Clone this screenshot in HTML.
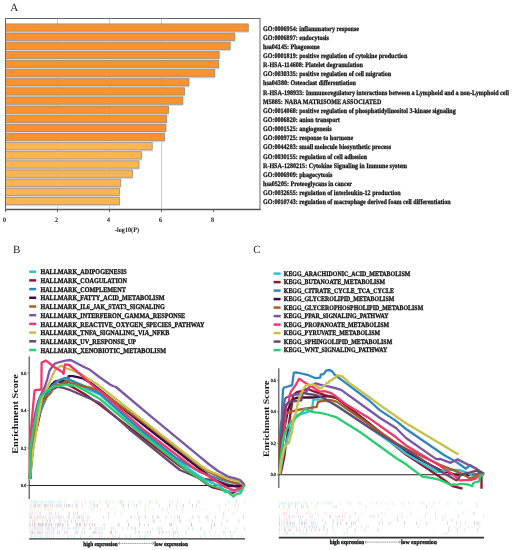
<!DOCTYPE html>
<html><head><meta charset="utf-8"><style>html,body{margin:0;padding:0;background:#fff;}svg{display:block;text-rendering:geometricPrecision;filter:blur(0.35px);}</style></head>
<body><svg width="512" height="550" viewBox="0 0 512 550"><text x="10.3" y="10.8" font-size="11" font-family="'Liberation Serif', serif" fill="#222">A</text>
<line x1="57.5" y1="18.5" x2="57.5" y2="209.5" stroke="#c4c4c4" stroke-width="0.9"/>
<line x1="109.5" y1="18.5" x2="109.5" y2="209.5" stroke="#c4c4c4" stroke-width="0.9"/>
<line x1="161.5" y1="18.5" x2="161.5" y2="209.5" stroke="#c4c4c4" stroke-width="0.9"/>
<rect x="5.5" y="31.50" width="243.40" height="1.3" fill="#d4dbe6"/>
<rect x="5.5" y="23.90" width="242.80" height="7.3" fill="#fa922f" stroke="#8c8580" stroke-width="0.7"/>
<text transform="translate(263,30.70) scale(0.867,1)" font-size="7" font-weight="bold" font-family="'Liberation Serif', serif" fill="#111" stroke="#111" stroke-width="0.26">GO:0006954: inflammatory response</text>
<rect x="5.5" y="40.63" width="230.00" height="1.3" fill="#d4dbe6"/>
<rect x="5.5" y="33.03" width="229.40" height="7.3" fill="#fa922f" stroke="#8c8580" stroke-width="0.7"/>
<text transform="translate(263,39.83) scale(0.867,1)" font-size="7" font-weight="bold" font-family="'Liberation Serif', serif" fill="#111" stroke="#111" stroke-width="0.26">GO:0006897: endocytosis</text>
<rect x="5.5" y="49.76" width="225.30" height="1.3" fill="#d4dbe6"/>
<rect x="5.5" y="42.16" width="224.70" height="7.3" fill="#fa922f" stroke="#8c8580" stroke-width="0.7"/>
<text transform="translate(263,48.96) scale(0.867,1)" font-size="7" font-weight="bold" font-family="'Liberation Serif', serif" fill="#111" stroke="#111" stroke-width="0.26">hsa04145: Phagosome</text>
<rect x="5.5" y="58.89" width="214.30" height="1.3" fill="#d4dbe6"/>
<rect x="5.5" y="51.29" width="213.70" height="7.3" fill="#fa922f" stroke="#8c8580" stroke-width="0.7"/>
<text transform="translate(263,58.09) scale(0.867,1)" font-size="7" font-weight="bold" font-family="'Liberation Serif', serif" fill="#111" stroke="#111" stroke-width="0.26">GO:0001819: positive regulation of cytokine production</text>
<rect x="5.5" y="68.02" width="213.80" height="1.3" fill="#d4dbe6"/>
<rect x="5.5" y="60.42" width="213.20" height="7.3" fill="#fa922f" stroke="#8c8580" stroke-width="0.7"/>
<text transform="translate(263,67.22) scale(0.867,1)" font-size="7" font-weight="bold" font-family="'Liberation Serif', serif" fill="#111" stroke="#111" stroke-width="0.26">R-HSA-114608: Platelet degranulation</text>
<rect x="5.5" y="77.15" width="209.90" height="1.3" fill="#d4dbe6"/>
<rect x="5.5" y="69.55" width="209.30" height="7.3" fill="#fa922f" stroke="#8c8580" stroke-width="0.7"/>
<text transform="translate(263,76.35) scale(0.867,1)" font-size="7" font-weight="bold" font-family="'Liberation Serif', serif" fill="#111" stroke="#111" stroke-width="0.26">GO:0030335: positive regulation of cell migration</text>
<rect x="5.5" y="86.28" width="184.10" height="1.3" fill="#d4dbe6"/>
<rect x="5.5" y="78.68" width="183.50" height="7.3" fill="#fa922f" stroke="#8c8580" stroke-width="0.7"/>
<text transform="translate(263,85.48) scale(0.867,1)" font-size="7" font-weight="bold" font-family="'Liberation Serif', serif" fill="#111" stroke="#111" stroke-width="0.26">hsa04380: Osteoclast differentiation</text>
<rect x="5.5" y="95.41" width="179.60" height="1.3" fill="#d4dbe6"/>
<rect x="5.5" y="87.81" width="179.00" height="7.3" fill="#fa922f" stroke="#8c8580" stroke-width="0.7"/>
<text transform="translate(263,94.61) scale(0.867,1)" font-size="7" font-weight="bold" font-family="'Liberation Serif', serif" fill="#111" stroke="#111" stroke-width="0.26">R-HSA-198933: Immunoregulatory interactions between a Lymphoid and a non-Lymphoid cell</text>
<rect x="5.5" y="104.54" width="178.00" height="1.3" fill="#d4dbe6"/>
<rect x="5.5" y="96.94" width="177.40" height="7.3" fill="#fa922f" stroke="#8c8580" stroke-width="0.7"/>
<text transform="translate(263,103.74) scale(0.867,1)" font-size="7" font-weight="bold" font-family="'Liberation Serif', serif" fill="#111" stroke="#111" stroke-width="0.26">M5885: NABA MATRISOME ASSOCIATED</text>
<rect x="5.5" y="113.67" width="163.70" height="1.3" fill="#d4dbe6"/>
<rect x="5.5" y="106.07" width="163.10" height="7.3" fill="#fa922f" stroke="#8c8580" stroke-width="0.7"/>
<text transform="translate(263,112.87) scale(0.867,1)" font-size="7" font-weight="bold" font-family="'Liberation Serif', serif" fill="#111" stroke="#111" stroke-width="0.26">GO:0014068: positive regulation of phosphatidylinositol 3-kinase signaling</text>
<rect x="5.5" y="122.80" width="161.80" height="1.3" fill="#d4dbe6"/>
<rect x="5.5" y="115.20" width="161.20" height="7.3" fill="#fa922f" stroke="#8c8580" stroke-width="0.7"/>
<text transform="translate(263,122.00) scale(0.867,1)" font-size="7" font-weight="bold" font-family="'Liberation Serif', serif" fill="#111" stroke="#111" stroke-width="0.26">GO:0006820: anion transport</text>
<rect x="5.5" y="131.93" width="161.10" height="1.3" fill="#d4dbe6"/>
<rect x="5.5" y="124.33" width="160.50" height="7.3" fill="#fa922f" stroke="#8c8580" stroke-width="0.7"/>
<text transform="translate(263,131.13) scale(0.867,1)" font-size="7" font-weight="bold" font-family="'Liberation Serif', serif" fill="#111" stroke="#111" stroke-width="0.26">GO:0001525: angiogenesis</text>
<rect x="5.5" y="141.06" width="159.70" height="1.3" fill="#d4dbe6"/>
<rect x="5.5" y="133.46" width="159.10" height="7.3" fill="#fa922f" stroke="#8c8580" stroke-width="0.7"/>
<text transform="translate(263,140.26) scale(0.867,1)" font-size="7" font-weight="bold" font-family="'Liberation Serif', serif" fill="#111" stroke="#111" stroke-width="0.26">GO:0009725: response to hormone</text>
<rect x="5.5" y="150.19" width="147.30" height="1.3" fill="#d4dbe6"/>
<rect x="5.5" y="142.59" width="146.70" height="7.3" fill="#fdb552" stroke="#8c8580" stroke-width="0.7"/>
<text transform="translate(263,149.39) scale(0.867,1)" font-size="7" font-weight="bold" font-family="'Liberation Serif', serif" fill="#111" stroke="#111" stroke-width="0.26">GO:0044283: small molecule biosynthetic process</text>
<rect x="5.5" y="159.32" width="136.70" height="1.3" fill="#d4dbe6"/>
<rect x="5.5" y="151.72" width="136.10" height="7.3" fill="#fdb552" stroke="#8c8580" stroke-width="0.7"/>
<text transform="translate(263,158.52) scale(0.867,1)" font-size="7" font-weight="bold" font-family="'Liberation Serif', serif" fill="#111" stroke="#111" stroke-width="0.26">GO:0030155: regulation of cell adhesion</text>
<rect x="5.5" y="168.45" width="134.10" height="1.3" fill="#d4dbe6"/>
<rect x="5.5" y="160.85" width="133.50" height="7.3" fill="#fdb552" stroke="#8c8580" stroke-width="0.7"/>
<text transform="translate(263,167.65) scale(0.867,1)" font-size="7" font-weight="bold" font-family="'Liberation Serif', serif" fill="#111" stroke="#111" stroke-width="0.26">R-HSA-1280215: Cytokine Signaling in Immune system</text>
<rect x="5.5" y="177.58" width="127.60" height="1.3" fill="#d4dbe6"/>
<rect x="5.5" y="169.98" width="127.00" height="7.3" fill="#fdb552" stroke="#8c8580" stroke-width="0.7"/>
<text transform="translate(263,176.78) scale(0.867,1)" font-size="7" font-weight="bold" font-family="'Liberation Serif', serif" fill="#111" stroke="#111" stroke-width="0.26">GO:0006909: phagocytosis</text>
<rect x="5.5" y="186.71" width="115.90" height="1.3" fill="#d4dbe6"/>
<rect x="5.5" y="179.11" width="115.30" height="7.3" fill="#fdb552" stroke="#8c8580" stroke-width="0.7"/>
<text transform="translate(263,185.91) scale(0.867,1)" font-size="7" font-weight="bold" font-family="'Liberation Serif', serif" fill="#111" stroke="#111" stroke-width="0.26">hsa05205: Proteoglycans in cancer</text>
<rect x="5.5" y="195.84" width="114.70" height="1.3" fill="#d4dbe6"/>
<rect x="5.5" y="188.24" width="114.10" height="7.3" fill="#fdb552" stroke="#8c8580" stroke-width="0.7"/>
<text transform="translate(263,195.04) scale(0.867,1)" font-size="7" font-weight="bold" font-family="'Liberation Serif', serif" fill="#111" stroke="#111" stroke-width="0.26">GO:0032655: regulation of interleukin-12 production</text>
<rect x="5.5" y="204.97" width="114.70" height="1.3" fill="#d4dbe6"/>
<rect x="5.5" y="197.37" width="114.10" height="7.3" fill="#fdb552" stroke="#8c8580" stroke-width="0.7"/>
<text transform="translate(263,204.17) scale(0.867,1)" font-size="7" font-weight="bold" font-family="'Liberation Serif', serif" fill="#111" stroke="#111" stroke-width="0.26">GO:0010743: regulation of macrophage derived foam cell differentiation</text>
<rect x="5.5" y="18.5" width="254.5" height="191.0" fill="none" stroke="#666" stroke-width="1"/>
<line x1="5.0" y1="209.5" x2="260.5" y2="209.5" stroke="#555" stroke-width="1.4"/>
<line x1="5.5" y1="209.5" x2="5.5" y2="212.0" stroke="#555" stroke-width="0.9"/>
<text transform="translate(4.5,221.6) scale(0.87,1)" font-size="6.9" font-weight="bold" text-anchor="middle" font-family="'Liberation Serif', serif" fill="#111">0</text>
<line x1="57.5" y1="209.5" x2="57.5" y2="212.0" stroke="#555" stroke-width="0.9"/>
<text transform="translate(56.5,221.6) scale(0.87,1)" font-size="6.9" font-weight="bold" text-anchor="middle" font-family="'Liberation Serif', serif" fill="#111">2</text>
<line x1="109.5" y1="209.5" x2="109.5" y2="212.0" stroke="#555" stroke-width="0.9"/>
<text transform="translate(108.5,221.6) scale(0.87,1)" font-size="6.9" font-weight="bold" text-anchor="middle" font-family="'Liberation Serif', serif" fill="#111">4</text>
<line x1="161.5" y1="209.5" x2="161.5" y2="212.0" stroke="#555" stroke-width="0.9"/>
<text transform="translate(160.5,221.6) scale(0.87,1)" font-size="6.9" font-weight="bold" text-anchor="middle" font-family="'Liberation Serif', serif" fill="#111">6</text>
<line x1="213.5" y1="209.5" x2="213.5" y2="212.0" stroke="#555" stroke-width="0.9"/>
<text transform="translate(212.5,221.6) scale(0.87,1)" font-size="6.9" font-weight="bold" text-anchor="middle" font-family="'Liberation Serif', serif" fill="#111">8</text>
<text transform="translate(127,231.6) scale(0.88,1)" font-size="7" font-weight="bold" text-anchor="middle" font-family="'Liberation Serif', serif" fill="#111">-log10(P)</text>
<text x="13" y="253" font-size="11" font-family="'Liberation Serif', serif" fill="#222">B</text>
<text x="253.3" y="253" font-size="11" font-family="'Liberation Serif', serif" fill="#222">C</text>
<rect x="29.2" y="270.45" width="7" height="2.5" fill="#2ec4d6"/>
<text transform="translate(40.4,274.30) scale(0.855,1)" font-size="7.2" font-weight="bold" text-anchor="start" font-family="'Liberation Serif', serif" fill="#111" stroke="#111" stroke-width="0.3">HALLMARK_ADIPOGENESIS</text>
<rect x="29.2" y="279.15" width="7" height="2.5" fill="#8b1a2e"/>
<text transform="translate(40.4,283.00) scale(0.855,1)" font-size="7.2" font-weight="bold" text-anchor="start" font-family="'Liberation Serif', serif" fill="#111" stroke="#111" stroke-width="0.3">HALLMARK_COAGULATION</text>
<rect x="29.2" y="287.85" width="7" height="2.5" fill="#2e86c1"/>
<text transform="translate(40.4,291.70) scale(0.855,1)" font-size="7.2" font-weight="bold" text-anchor="start" font-family="'Liberation Serif', serif" fill="#111" stroke="#111" stroke-width="0.3">HALLMARK_COMPLEMENT</text>
<rect x="29.2" y="296.55" width="7" height="2.5" fill="#3d0a3d"/>
<text transform="translate(40.4,300.40) scale(0.855,1)" font-size="7.2" font-weight="bold" text-anchor="start" font-family="'Liberation Serif', serif" fill="#111" stroke="#111" stroke-width="0.3">HALLMARK_FATTY_ACID_METABOLISM</text>
<rect x="29.2" y="305.25" width="7" height="2.5" fill="#a5602a"/>
<text transform="translate(40.4,309.10) scale(0.855,1)" font-size="7.2" font-weight="bold" text-anchor="start" font-family="'Liberation Serif', serif" fill="#111" stroke="#111" stroke-width="0.3">HALLMARK_IL6_JAK_STAT3_SIGNALING</text>
<rect x="29.2" y="313.95" width="7" height="2.5" fill="#7858a6"/>
<text transform="translate(40.4,317.80) scale(0.855,1)" font-size="7.2" font-weight="bold" text-anchor="start" font-family="'Liberation Serif', serif" fill="#111" stroke="#111" stroke-width="0.3">HALLMARK_INTERFERON_GAMMA_RESPONSE</text>
<rect x="29.2" y="322.65" width="7" height="2.5" fill="#f0386b"/>
<text transform="translate(40.4,326.50) scale(0.855,1)" font-size="7.2" font-weight="bold" text-anchor="start" font-family="'Liberation Serif', serif" fill="#111" stroke="#111" stroke-width="0.3">HALLMARK_REACTIVE_OXYGEN_SPECIES_PATHWAY</text>
<rect x="29.2" y="331.35" width="7" height="2.5" fill="#c8c04a"/>
<text transform="translate(40.4,335.20) scale(0.855,1)" font-size="7.2" font-weight="bold" text-anchor="start" font-family="'Liberation Serif', serif" fill="#111" stroke="#111" stroke-width="0.3">HALLMARK_TNFA_SIGNALING_VIA_NFKB</text>
<rect x="29.2" y="340.05" width="7" height="2.5" fill="#6b4a6b"/>
<text transform="translate(40.4,343.90) scale(0.855,1)" font-size="7.2" font-weight="bold" text-anchor="start" font-family="'Liberation Serif', serif" fill="#111" stroke="#111" stroke-width="0.3">HALLMARK_UV_RESPONSE_UP</text>
<rect x="29.2" y="348.75" width="7" height="2.5" fill="#2ecc71"/>
<text transform="translate(40.4,352.60) scale(0.855,1)" font-size="7.2" font-weight="bold" text-anchor="start" font-family="'Liberation Serif', serif" fill="#111" stroke="#111" stroke-width="0.3">HALLMARK_XENOBIOTIC_METABOLISM</text>
<rect x="273.6" y="272.35" width="7" height="2.5" fill="#2ec4d6"/>
<text transform="translate(283.8,275.50) scale(0.859,1)" font-size="6.9" font-weight="bold" text-anchor="start" font-family="'Liberation Serif', serif" fill="#111" stroke="#111" stroke-width="0.3">KEGG_ARACHIDONIC_ACID_METABOLISM</text>
<rect x="273.6" y="280.85" width="7" height="2.5" fill="#8b1a2e"/>
<text transform="translate(283.8,284.00) scale(0.859,1)" font-size="6.9" font-weight="bold" text-anchor="start" font-family="'Liberation Serif', serif" fill="#111" stroke="#111" stroke-width="0.3">KEGG_BUTANOATE_METABOLISM</text>
<rect x="273.6" y="289.35" width="7" height="2.5" fill="#2e86c1"/>
<text transform="translate(283.8,292.50) scale(0.859,1)" font-size="6.9" font-weight="bold" text-anchor="start" font-family="'Liberation Serif', serif" fill="#111" stroke="#111" stroke-width="0.3">KEGG_CITRATE_CYCLE_TCA_CYCLE</text>
<rect x="273.6" y="297.85" width="7" height="2.5" fill="#3d0a3d"/>
<text transform="translate(283.8,301.00) scale(0.859,1)" font-size="6.9" font-weight="bold" text-anchor="start" font-family="'Liberation Serif', serif" fill="#111" stroke="#111" stroke-width="0.3">KEGG_GLYCEROLIPID_METABOLISM</text>
<rect x="273.6" y="306.35" width="7" height="2.5" fill="#a5602a"/>
<text transform="translate(283.8,309.50) scale(0.859,1)" font-size="6.9" font-weight="bold" text-anchor="start" font-family="'Liberation Serif', serif" fill="#111" stroke="#111" stroke-width="0.3">KEGG_GLYCEROPHOSPHOLIPID_METABOLISM</text>
<rect x="273.6" y="314.85" width="7" height="2.5" fill="#7858a6"/>
<text transform="translate(283.8,318.00) scale(0.859,1)" font-size="6.9" font-weight="bold" text-anchor="start" font-family="'Liberation Serif', serif" fill="#111" stroke="#111" stroke-width="0.3">KEGG_PPAR_SIGNALING_PATHWAY</text>
<rect x="273.6" y="323.35" width="7" height="2.5" fill="#f0386b"/>
<text transform="translate(283.8,326.50) scale(0.859,1)" font-size="6.9" font-weight="bold" text-anchor="start" font-family="'Liberation Serif', serif" fill="#111" stroke="#111" stroke-width="0.3">KEGG_PROPANOATE_METABOLISM</text>
<rect x="273.6" y="331.85" width="7" height="2.5" fill="#c8c04a"/>
<text transform="translate(283.8,335.00) scale(0.859,1)" font-size="6.9" font-weight="bold" text-anchor="start" font-family="'Liberation Serif', serif" fill="#111" stroke="#111" stroke-width="0.3">KEGG_PYRUVATE_METABOLISM</text>
<rect x="273.6" y="340.35" width="7" height="2.5" fill="#6b4a6b"/>
<text transform="translate(283.8,343.50) scale(0.859,1)" font-size="6.9" font-weight="bold" text-anchor="start" font-family="'Liberation Serif', serif" fill="#111" stroke="#111" stroke-width="0.3">KEGG_SPHINGOLIPID_METABOLISM</text>
<rect x="273.6" y="348.85" width="7" height="2.5" fill="#2ecc71"/>
<text transform="translate(283.8,352.00) scale(0.859,1)" font-size="6.9" font-weight="bold" text-anchor="start" font-family="'Liberation Serif', serif" fill="#111" stroke="#111" stroke-width="0.3">KEGG_WNT_SIGNALING_PATHWAY</text>
<line x1="29.2" y1="356.6" x2="29.2" y2="499" stroke="#444" stroke-width="1.1"/>
<line x1="27.4" y1="485.50" x2="29.2" y2="485.50" stroke="#444" stroke-width="0.6"/>
<text transform="translate(26.2,487.10) scale(0.855,1)" font-size="4.8" font-weight="normal" text-anchor="end" font-family="'Liberation Serif', serif" fill="#222" stroke="#222" stroke-width="0.3">0.0</text>
<line x1="27.4" y1="448.00" x2="29.2" y2="448.00" stroke="#444" stroke-width="0.6"/>
<text transform="translate(26.2,449.60) scale(0.855,1)" font-size="4.8" font-weight="normal" text-anchor="end" font-family="'Liberation Serif', serif" fill="#222" stroke="#222" stroke-width="0.3">0.2</text>
<line x1="27.4" y1="410.50" x2="29.2" y2="410.50" stroke="#444" stroke-width="0.6"/>
<text transform="translate(26.2,412.10) scale(0.855,1)" font-size="4.8" font-weight="normal" text-anchor="end" font-family="'Liberation Serif', serif" fill="#222" stroke="#222" stroke-width="0.3">0.4</text>
<line x1="27.4" y1="373.00" x2="29.2" y2="373.00" stroke="#444" stroke-width="0.6"/>
<text transform="translate(26.2,374.60) scale(0.855,1)" font-size="4.8" font-weight="normal" text-anchor="end" font-family="'Liberation Serif', serif" fill="#222" stroke="#222" stroke-width="0.3">0.6</text>
<line x1="29.2" y1="485.5" x2="245" y2="485.5" stroke="#222" stroke-width="1.1"/>
<rect x="29.7" y="500.2" width="0.65" height="3.4" fill="#2ecc71" opacity="0.21"/>
<rect x="31.6" y="500.2" width="0.65" height="3.4" fill="#2ecc71" opacity="0.30"/>
<rect x="33.0" y="500.2" width="0.65" height="3.4" fill="#2ecc71" opacity="0.29"/>
<rect x="34.0" y="500.2" width="0.65" height="3.4" fill="#2ecc71" opacity="0.20"/>
<rect x="35.0" y="500.2" width="0.65" height="3.4" fill="#2ecc71" opacity="0.36"/>
<rect x="36.1" y="500.2" width="0.65" height="3.4" fill="#2ecc71" opacity="0.32"/>
<rect x="38.4" y="500.2" width="0.65" height="3.4" fill="#2ecc71" opacity="0.27"/>
<rect x="40.8" y="500.2" width="0.65" height="3.4" fill="#2ecc71" opacity="0.37"/>
<rect x="42.1" y="500.2" width="0.65" height="3.4" fill="#2ecc71" opacity="0.21"/>
<rect x="43.5" y="500.2" width="0.65" height="3.4" fill="#2ecc71" opacity="0.22"/>
<rect x="45.3" y="500.2" width="0.65" height="3.4" fill="#2ecc71" opacity="0.26"/>
<rect x="47.0" y="500.2" width="0.65" height="3.4" fill="#2ecc71" opacity="0.19"/>
<rect x="48.2" y="500.2" width="0.65" height="3.4" fill="#2ecc71" opacity="0.27"/>
<rect x="49.6" y="500.2" width="0.65" height="3.4" fill="#2ecc71" opacity="0.28"/>
<rect x="50.9" y="500.2" width="0.65" height="3.4" fill="#2ecc71" opacity="0.33"/>
<rect x="52.2" y="500.2" width="0.65" height="3.4" fill="#2ecc71" opacity="0.30"/>
<rect x="54.4" y="500.2" width="0.65" height="3.4" fill="#2ecc71" opacity="0.24"/>
<rect x="56.8" y="500.2" width="0.65" height="3.4" fill="#2ecc71" opacity="0.27"/>
<rect x="58.8" y="500.2" width="0.65" height="3.4" fill="#2ecc71" opacity="0.29"/>
<rect x="59.8" y="500.2" width="0.65" height="3.4" fill="#2ecc71" opacity="0.35"/>
<rect x="64.7" y="500.2" width="0.65" height="3.4" fill="#2ecc71" opacity="0.28"/>
<rect x="73.4" y="500.2" width="0.65" height="3.4" fill="#2ecc71" opacity="0.26"/>
<rect x="75.3" y="500.2" width="0.65" height="3.4" fill="#2ecc71" opacity="0.28"/>
<rect x="76.5" y="500.2" width="0.65" height="3.4" fill="#2ecc71" opacity="0.19"/>
<rect x="78.5" y="500.2" width="0.65" height="3.4" fill="#2ecc71" opacity="0.23"/>
<rect x="81.1" y="500.2" width="0.65" height="3.4" fill="#2ecc71" opacity="0.30"/>
<rect x="85.5" y="500.2" width="0.65" height="3.4" fill="#2ecc71" opacity="0.27"/>
<rect x="89.3" y="500.2" width="0.65" height="3.4" fill="#2ecc71" opacity="0.22"/>
<rect x="90.5" y="500.2" width="0.65" height="3.4" fill="#2ecc71" opacity="0.29"/>
<rect x="92.3" y="500.2" width="0.65" height="3.4" fill="#2ecc71" opacity="0.18"/>
<rect x="93.8" y="500.2" width="0.65" height="3.4" fill="#2ecc71" opacity="0.30"/>
<rect x="99.7" y="500.2" width="0.65" height="3.4" fill="#2ecc71" opacity="0.38"/>
<rect x="105.4" y="500.2" width="0.65" height="3.4" fill="#2ecc71" opacity="0.32"/>
<rect x="106.4" y="500.2" width="0.65" height="3.4" fill="#2ecc71" opacity="0.23"/>
<rect x="108.5" y="500.2" width="0.65" height="3.4" fill="#2ecc71" opacity="0.21"/>
<rect x="112.3" y="500.2" width="0.65" height="3.4" fill="#2ecc71" opacity="0.24"/>
<rect x="118.8" y="500.2" width="0.65" height="3.4" fill="#2ecc71" opacity="0.20"/>
<rect x="120.3" y="500.2" width="0.65" height="3.4" fill="#2ecc71" opacity="0.36"/>
<rect x="121.4" y="500.2" width="0.65" height="3.4" fill="#2ecc71" opacity="0.39"/>
<rect x="123.1" y="500.2" width="0.65" height="3.4" fill="#2ecc71" opacity="0.30"/>
<rect x="128.3" y="500.2" width="0.65" height="3.4" fill="#2ecc71" opacity="0.26"/>
<rect x="132.6" y="500.2" width="0.65" height="3.4" fill="#2ecc71" opacity="0.36"/>
<rect x="139.1" y="500.2" width="0.65" height="3.4" fill="#2ecc71" opacity="0.29"/>
<rect x="140.5" y="500.2" width="0.65" height="3.4" fill="#2ecc71" opacity="0.19"/>
<rect x="149.2" y="500.2" width="0.65" height="3.4" fill="#2ecc71" opacity="0.23"/>
<rect x="150.4" y="500.2" width="0.65" height="3.4" fill="#2ecc71" opacity="0.32"/>
<rect x="156.3" y="500.2" width="0.65" height="3.4" fill="#2ecc71" opacity="0.33"/>
<rect x="169.0" y="500.2" width="0.65" height="3.4" fill="#2ecc71" opacity="0.21"/>
<rect x="172.3" y="500.2" width="0.65" height="3.4" fill="#2ecc71" opacity="0.36"/>
<rect x="177.2" y="500.2" width="0.65" height="3.4" fill="#2ecc71" opacity="0.39"/>
<rect x="189.4" y="500.2" width="0.65" height="3.4" fill="#2ecc71" opacity="0.38"/>
<rect x="197.5" y="500.2" width="0.65" height="3.4" fill="#2ecc71" opacity="0.28"/>
<rect x="198.7" y="500.2" width="0.65" height="3.4" fill="#2ecc71" opacity="0.36"/>
<rect x="228.2" y="500.2" width="0.65" height="3.4" fill="#2ecc71" opacity="0.21"/>
<rect x="229.7" y="500.2" width="0.65" height="3.4" fill="#2ecc71" opacity="0.23"/>
<rect x="235.9" y="500.2" width="0.65" height="3.4" fill="#2ecc71" opacity="0.37"/>
<rect x="244.3" y="500.2" width="0.65" height="3.4" fill="#2ecc71" opacity="0.27"/>
<rect x="29.7" y="504.0" width="0.65" height="3.4" fill="#6b4a6b" opacity="0.22"/>
<rect x="31.1" y="504.0" width="0.65" height="3.4" fill="#6b4a6b" opacity="0.18"/>
<rect x="32.8" y="504.0" width="0.65" height="3.4" fill="#6b4a6b" opacity="0.18"/>
<rect x="34.2" y="504.0" width="0.65" height="3.4" fill="#6b4a6b" opacity="0.29"/>
<rect x="35.2" y="504.0" width="0.65" height="3.4" fill="#6b4a6b" opacity="0.35"/>
<rect x="37.6" y="504.0" width="0.65" height="3.4" fill="#6b4a6b" opacity="0.24"/>
<rect x="38.5" y="504.0" width="0.65" height="3.4" fill="#6b4a6b" opacity="0.24"/>
<rect x="39.6" y="504.0" width="0.65" height="3.4" fill="#6b4a6b" opacity="0.38"/>
<rect x="41.7" y="504.0" width="0.65" height="3.4" fill="#6b4a6b" opacity="0.21"/>
<rect x="44.0" y="504.0" width="0.65" height="3.4" fill="#6b4a6b" opacity="0.33"/>
<rect x="45.1" y="504.0" width="0.65" height="3.4" fill="#6b4a6b" opacity="0.33"/>
<rect x="46.6" y="504.0" width="0.65" height="3.4" fill="#6b4a6b" opacity="0.39"/>
<rect x="48.4" y="504.0" width="0.65" height="3.4" fill="#6b4a6b" opacity="0.20"/>
<rect x="50.6" y="504.0" width="0.65" height="3.4" fill="#6b4a6b" opacity="0.37"/>
<rect x="52.2" y="504.0" width="0.65" height="3.4" fill="#6b4a6b" opacity="0.30"/>
<rect x="54.5" y="504.0" width="0.65" height="3.4" fill="#6b4a6b" opacity="0.21"/>
<rect x="56.2" y="504.0" width="0.65" height="3.4" fill="#6b4a6b" opacity="0.20"/>
<rect x="57.3" y="504.0" width="0.65" height="3.4" fill="#6b4a6b" opacity="0.22"/>
<rect x="58.7" y="504.0" width="0.65" height="3.4" fill="#6b4a6b" opacity="0.35"/>
<rect x="60.0" y="504.0" width="0.65" height="3.4" fill="#6b4a6b" opacity="0.22"/>
<rect x="61.5" y="504.0" width="0.65" height="3.4" fill="#6b4a6b" opacity="0.24"/>
<rect x="64.1" y="504.0" width="0.65" height="3.4" fill="#6b4a6b" opacity="0.28"/>
<rect x="66.4" y="504.0" width="0.65" height="3.4" fill="#6b4a6b" opacity="0.36"/>
<rect x="68.0" y="504.0" width="0.65" height="3.4" fill="#6b4a6b" opacity="0.36"/>
<rect x="69.4" y="504.0" width="0.65" height="3.4" fill="#6b4a6b" opacity="0.33"/>
<rect x="71.8" y="504.0" width="0.65" height="3.4" fill="#6b4a6b" opacity="0.36"/>
<rect x="75.3" y="504.0" width="0.65" height="3.4" fill="#6b4a6b" opacity="0.19"/>
<rect x="76.4" y="504.0" width="0.65" height="3.4" fill="#6b4a6b" opacity="0.34"/>
<rect x="77.7" y="504.0" width="0.65" height="3.4" fill="#6b4a6b" opacity="0.20"/>
<rect x="81.7" y="504.0" width="0.65" height="3.4" fill="#6b4a6b" opacity="0.23"/>
<rect x="90.5" y="504.0" width="0.65" height="3.4" fill="#6b4a6b" opacity="0.18"/>
<rect x="93.6" y="504.0" width="0.65" height="3.4" fill="#6b4a6b" opacity="0.29"/>
<rect x="94.5" y="504.0" width="0.65" height="3.4" fill="#6b4a6b" opacity="0.20"/>
<rect x="96.0" y="504.0" width="0.65" height="3.4" fill="#6b4a6b" opacity="0.18"/>
<rect x="97.4" y="504.0" width="0.65" height="3.4" fill="#6b4a6b" opacity="0.31"/>
<rect x="107.6" y="504.0" width="0.65" height="3.4" fill="#6b4a6b" opacity="0.36"/>
<rect x="121.6" y="504.0" width="0.65" height="3.4" fill="#6b4a6b" opacity="0.21"/>
<rect x="123.1" y="504.0" width="0.65" height="3.4" fill="#6b4a6b" opacity="0.36"/>
<rect x="128.3" y="504.0" width="0.65" height="3.4" fill="#6b4a6b" opacity="0.36"/>
<rect x="134.3" y="504.0" width="0.65" height="3.4" fill="#6b4a6b" opacity="0.24"/>
<rect x="136.3" y="504.0" width="0.65" height="3.4" fill="#6b4a6b" opacity="0.34"/>
<rect x="144.9" y="504.0" width="0.65" height="3.4" fill="#6b4a6b" opacity="0.24"/>
<rect x="148.6" y="504.0" width="0.65" height="3.4" fill="#6b4a6b" opacity="0.19"/>
<rect x="159.4" y="504.0" width="0.65" height="3.4" fill="#6b4a6b" opacity="0.28"/>
<rect x="169.0" y="504.0" width="0.65" height="3.4" fill="#6b4a6b" opacity="0.36"/>
<rect x="175.8" y="504.0" width="0.65" height="3.4" fill="#6b4a6b" opacity="0.29"/>
<rect x="182.9" y="504.0" width="0.65" height="3.4" fill="#6b4a6b" opacity="0.38"/>
<rect x="192.0" y="504.0" width="0.65" height="3.4" fill="#6b4a6b" opacity="0.36"/>
<rect x="196.3" y="504.0" width="0.65" height="3.4" fill="#6b4a6b" opacity="0.26"/>
<rect x="218.7" y="504.0" width="0.65" height="3.4" fill="#6b4a6b" opacity="0.22"/>
<rect x="225.4" y="504.0" width="0.65" height="3.4" fill="#6b4a6b" opacity="0.22"/>
<rect x="235.6" y="504.0" width="0.65" height="3.4" fill="#6b4a6b" opacity="0.24"/>
<rect x="238.0" y="504.0" width="0.65" height="3.4" fill="#6b4a6b" opacity="0.29"/>
<rect x="29.7" y="507.8" width="0.65" height="3.4" fill="#c8c04a" opacity="0.18"/>
<rect x="30.6" y="507.8" width="0.65" height="3.4" fill="#c8c04a" opacity="0.38"/>
<rect x="32.3" y="507.8" width="0.65" height="3.4" fill="#c8c04a" opacity="0.18"/>
<rect x="33.7" y="507.8" width="0.65" height="3.4" fill="#c8c04a" opacity="0.36"/>
<rect x="35.9" y="507.8" width="0.65" height="3.4" fill="#c8c04a" opacity="0.23"/>
<rect x="37.0" y="507.8" width="0.65" height="3.4" fill="#c8c04a" opacity="0.29"/>
<rect x="40.9" y="507.8" width="0.65" height="3.4" fill="#c8c04a" opacity="0.35"/>
<rect x="42.5" y="507.8" width="0.65" height="3.4" fill="#c8c04a" opacity="0.19"/>
<rect x="44.6" y="507.8" width="0.65" height="3.4" fill="#c8c04a" opacity="0.38"/>
<rect x="46.4" y="507.8" width="0.65" height="3.4" fill="#c8c04a" opacity="0.21"/>
<rect x="47.7" y="507.8" width="0.65" height="3.4" fill="#c8c04a" opacity="0.33"/>
<rect x="48.8" y="507.8" width="0.65" height="3.4" fill="#c8c04a" opacity="0.30"/>
<rect x="50.5" y="507.8" width="0.65" height="3.4" fill="#c8c04a" opacity="0.23"/>
<rect x="52.3" y="507.8" width="0.65" height="3.4" fill="#c8c04a" opacity="0.25"/>
<rect x="57.4" y="507.8" width="0.65" height="3.4" fill="#c8c04a" opacity="0.23"/>
<rect x="61.1" y="507.8" width="0.65" height="3.4" fill="#c8c04a" opacity="0.29"/>
<rect x="63.0" y="507.8" width="0.65" height="3.4" fill="#c8c04a" opacity="0.24"/>
<rect x="66.2" y="507.8" width="0.65" height="3.4" fill="#c8c04a" opacity="0.25"/>
<rect x="74.7" y="507.8" width="0.65" height="3.4" fill="#c8c04a" opacity="0.35"/>
<rect x="77.7" y="507.8" width="0.65" height="3.4" fill="#c8c04a" opacity="0.23"/>
<rect x="81.6" y="507.8" width="0.65" height="3.4" fill="#c8c04a" opacity="0.27"/>
<rect x="83.9" y="507.8" width="0.65" height="3.4" fill="#c8c04a" opacity="0.19"/>
<rect x="91.4" y="507.8" width="0.65" height="3.4" fill="#c8c04a" opacity="0.39"/>
<rect x="93.4" y="507.8" width="0.65" height="3.4" fill="#c8c04a" opacity="0.33"/>
<rect x="96.3" y="507.8" width="0.65" height="3.4" fill="#c8c04a" opacity="0.18"/>
<rect x="99.9" y="507.8" width="0.65" height="3.4" fill="#c8c04a" opacity="0.39"/>
<rect x="104.8" y="507.8" width="0.65" height="3.4" fill="#c8c04a" opacity="0.28"/>
<rect x="109.7" y="507.8" width="0.65" height="3.4" fill="#c8c04a" opacity="0.27"/>
<rect x="112.8" y="507.8" width="0.65" height="3.4" fill="#c8c04a" opacity="0.19"/>
<rect x="115.1" y="507.8" width="0.65" height="3.4" fill="#c8c04a" opacity="0.34"/>
<rect x="123.8" y="507.8" width="0.65" height="3.4" fill="#c8c04a" opacity="0.35"/>
<rect x="128.3" y="507.8" width="0.65" height="3.4" fill="#c8c04a" opacity="0.23"/>
<rect x="144.3" y="507.8" width="0.65" height="3.4" fill="#c8c04a" opacity="0.35"/>
<rect x="145.6" y="507.8" width="0.65" height="3.4" fill="#c8c04a" opacity="0.19"/>
<rect x="153.1" y="507.8" width="0.65" height="3.4" fill="#c8c04a" opacity="0.29"/>
<rect x="162.0" y="507.8" width="0.65" height="3.4" fill="#c8c04a" opacity="0.36"/>
<rect x="167.3" y="507.8" width="0.65" height="3.4" fill="#c8c04a" opacity="0.37"/>
<rect x="176.7" y="507.8" width="0.65" height="3.4" fill="#c8c04a" opacity="0.28"/>
<rect x="181.1" y="507.8" width="0.65" height="3.4" fill="#c8c04a" opacity="0.24"/>
<rect x="182.2" y="507.8" width="0.65" height="3.4" fill="#c8c04a" opacity="0.39"/>
<rect x="193.4" y="507.8" width="0.65" height="3.4" fill="#c8c04a" opacity="0.22"/>
<rect x="199.4" y="507.8" width="0.65" height="3.4" fill="#c8c04a" opacity="0.25"/>
<rect x="202.3" y="507.8" width="0.65" height="3.4" fill="#c8c04a" opacity="0.20"/>
<rect x="205.7" y="507.8" width="0.65" height="3.4" fill="#c8c04a" opacity="0.22"/>
<rect x="219.4" y="507.8" width="0.65" height="3.4" fill="#c8c04a" opacity="0.38"/>
<rect x="224.0" y="507.8" width="0.65" height="3.4" fill="#c8c04a" opacity="0.18"/>
<rect x="228.0" y="507.8" width="0.65" height="3.4" fill="#c8c04a" opacity="0.32"/>
<rect x="236.6" y="507.8" width="0.65" height="3.4" fill="#c8c04a" opacity="0.39"/>
<rect x="29.7" y="511.7" width="0.65" height="3.4" fill="#f0386b" opacity="0.37"/>
<rect x="31.8" y="511.7" width="0.65" height="3.4" fill="#f0386b" opacity="0.23"/>
<rect x="34.8" y="511.7" width="0.65" height="3.4" fill="#f0386b" opacity="0.23"/>
<rect x="39.8" y="511.7" width="0.65" height="3.4" fill="#f0386b" opacity="0.36"/>
<rect x="49.2" y="511.7" width="0.65" height="3.4" fill="#f0386b" opacity="0.32"/>
<rect x="50.8" y="511.7" width="0.65" height="3.4" fill="#f0386b" opacity="0.35"/>
<rect x="55.1" y="511.7" width="0.65" height="3.4" fill="#f0386b" opacity="0.27"/>
<rect x="57.8" y="511.7" width="0.65" height="3.4" fill="#f0386b" opacity="0.32"/>
<rect x="69.0" y="511.7" width="0.65" height="3.4" fill="#f0386b" opacity="0.40"/>
<rect x="72.9" y="511.7" width="0.65" height="3.4" fill="#f0386b" opacity="0.35"/>
<rect x="75.2" y="511.7" width="0.65" height="3.4" fill="#f0386b" opacity="0.26"/>
<rect x="77.2" y="511.7" width="0.65" height="3.4" fill="#f0386b" opacity="0.38"/>
<rect x="84.6" y="511.7" width="0.65" height="3.4" fill="#f0386b" opacity="0.22"/>
<rect x="108.1" y="511.7" width="0.65" height="3.4" fill="#f0386b" opacity="0.36"/>
<rect x="114.6" y="511.7" width="0.65" height="3.4" fill="#f0386b" opacity="0.21"/>
<rect x="121.1" y="511.7" width="0.65" height="3.4" fill="#f0386b" opacity="0.18"/>
<rect x="137.2" y="511.7" width="0.65" height="3.4" fill="#f0386b" opacity="0.32"/>
<rect x="167.9" y="511.7" width="0.65" height="3.4" fill="#f0386b" opacity="0.25"/>
<rect x="209.7" y="511.7" width="0.65" height="3.4" fill="#f0386b" opacity="0.19"/>
<rect x="223.5" y="511.7" width="0.65" height="3.4" fill="#f0386b" opacity="0.37"/>
<rect x="232.9" y="511.7" width="0.65" height="3.4" fill="#f0386b" opacity="0.24"/>
<rect x="29.7" y="515.5" width="0.65" height="3.4" fill="#7858a6" opacity="0.37"/>
<rect x="30.7" y="515.5" width="0.65" height="3.4" fill="#7858a6" opacity="0.22"/>
<rect x="31.6" y="515.5" width="0.65" height="3.4" fill="#7858a6" opacity="0.35"/>
<rect x="34.0" y="515.5" width="0.65" height="3.4" fill="#7858a6" opacity="0.29"/>
<rect x="35.6" y="515.5" width="0.65" height="3.4" fill="#7858a6" opacity="0.22"/>
<rect x="37.3" y="515.5" width="0.65" height="3.4" fill="#7858a6" opacity="0.36"/>
<rect x="38.6" y="515.5" width="0.65" height="3.4" fill="#7858a6" opacity="0.24"/>
<rect x="39.8" y="515.5" width="0.65" height="3.4" fill="#7858a6" opacity="0.29"/>
<rect x="40.9" y="515.5" width="0.65" height="3.4" fill="#7858a6" opacity="0.20"/>
<rect x="42.9" y="515.5" width="0.65" height="3.4" fill="#7858a6" opacity="0.35"/>
<rect x="44.8" y="515.5" width="0.65" height="3.4" fill="#7858a6" opacity="0.27"/>
<rect x="46.3" y="515.5" width="0.65" height="3.4" fill="#7858a6" opacity="0.20"/>
<rect x="48.5" y="515.5" width="0.65" height="3.4" fill="#7858a6" opacity="0.23"/>
<rect x="49.8" y="515.5" width="0.65" height="3.4" fill="#7858a6" opacity="0.29"/>
<rect x="52.5" y="515.5" width="0.65" height="3.4" fill="#7858a6" opacity="0.30"/>
<rect x="54.6" y="515.5" width="0.65" height="3.4" fill="#7858a6" opacity="0.32"/>
<rect x="56.0" y="515.5" width="0.65" height="3.4" fill="#7858a6" opacity="0.21"/>
<rect x="58.1" y="515.5" width="0.65" height="3.4" fill="#7858a6" opacity="0.34"/>
<rect x="59.3" y="515.5" width="0.65" height="3.4" fill="#7858a6" opacity="0.35"/>
<rect x="61.1" y="515.5" width="0.65" height="3.4" fill="#7858a6" opacity="0.28"/>
<rect x="63.3" y="515.5" width="0.65" height="3.4" fill="#7858a6" opacity="0.22"/>
<rect x="66.8" y="515.5" width="0.65" height="3.4" fill="#7858a6" opacity="0.21"/>
<rect x="68.1" y="515.5" width="0.65" height="3.4" fill="#7858a6" opacity="0.29"/>
<rect x="69.2" y="515.5" width="0.65" height="3.4" fill="#7858a6" opacity="0.22"/>
<rect x="73.7" y="515.5" width="0.65" height="3.4" fill="#7858a6" opacity="0.40"/>
<rect x="77.3" y="515.5" width="0.65" height="3.4" fill="#7858a6" opacity="0.32"/>
<rect x="78.4" y="515.5" width="0.65" height="3.4" fill="#7858a6" opacity="0.27"/>
<rect x="79.3" y="515.5" width="0.65" height="3.4" fill="#7858a6" opacity="0.35"/>
<rect x="81.3" y="515.5" width="0.65" height="3.4" fill="#7858a6" opacity="0.32"/>
<rect x="82.9" y="515.5" width="0.65" height="3.4" fill="#7858a6" opacity="0.31"/>
<rect x="86.7" y="515.5" width="0.65" height="3.4" fill="#7858a6" opacity="0.31"/>
<rect x="88.7" y="515.5" width="0.65" height="3.4" fill="#7858a6" opacity="0.23"/>
<rect x="103.1" y="515.5" width="0.65" height="3.4" fill="#7858a6" opacity="0.27"/>
<rect x="108.5" y="515.5" width="0.65" height="3.4" fill="#7858a6" opacity="0.32"/>
<rect x="129.9" y="515.5" width="0.65" height="3.4" fill="#7858a6" opacity="0.24"/>
<rect x="131.4" y="515.5" width="0.65" height="3.4" fill="#7858a6" opacity="0.27"/>
<rect x="134.4" y="515.5" width="0.65" height="3.4" fill="#7858a6" opacity="0.23"/>
<rect x="138.1" y="515.5" width="0.65" height="3.4" fill="#7858a6" opacity="0.36"/>
<rect x="139.6" y="515.5" width="0.65" height="3.4" fill="#7858a6" opacity="0.21"/>
<rect x="145.2" y="515.5" width="0.65" height="3.4" fill="#7858a6" opacity="0.39"/>
<rect x="152.1" y="515.5" width="0.65" height="3.4" fill="#7858a6" opacity="0.36"/>
<rect x="157.3" y="515.5" width="0.65" height="3.4" fill="#7858a6" opacity="0.34"/>
<rect x="158.6" y="515.5" width="0.65" height="3.4" fill="#7858a6" opacity="0.25"/>
<rect x="165.7" y="515.5" width="0.65" height="3.4" fill="#7858a6" opacity="0.36"/>
<rect x="170.9" y="515.5" width="0.65" height="3.4" fill="#7858a6" opacity="0.18"/>
<rect x="174.5" y="515.5" width="0.65" height="3.4" fill="#7858a6" opacity="0.21"/>
<rect x="177.2" y="515.5" width="0.65" height="3.4" fill="#7858a6" opacity="0.38"/>
<rect x="179.3" y="515.5" width="0.65" height="3.4" fill="#7858a6" opacity="0.38"/>
<rect x="192.5" y="515.5" width="0.65" height="3.4" fill="#7858a6" opacity="0.29"/>
<rect x="198.5" y="515.5" width="0.65" height="3.4" fill="#7858a6" opacity="0.36"/>
<rect x="205.8" y="515.5" width="0.65" height="3.4" fill="#7858a6" opacity="0.32"/>
<rect x="207.6" y="515.5" width="0.65" height="3.4" fill="#7858a6" opacity="0.31"/>
<rect x="214.9" y="515.5" width="0.65" height="3.4" fill="#7858a6" opacity="0.34"/>
<rect x="222.6" y="515.5" width="0.65" height="3.4" fill="#7858a6" opacity="0.28"/>
<rect x="243.2" y="515.5" width="0.65" height="3.4" fill="#7858a6" opacity="0.38"/>
<rect x="29.7" y="519.3" width="0.65" height="3.4" fill="#a5602a" opacity="0.35"/>
<rect x="32.0" y="519.3" width="0.65" height="3.4" fill="#a5602a" opacity="0.32"/>
<rect x="33.8" y="519.3" width="0.65" height="3.4" fill="#a5602a" opacity="0.31"/>
<rect x="35.7" y="519.3" width="0.65" height="3.4" fill="#a5602a" opacity="0.33"/>
<rect x="38.4" y="519.3" width="0.65" height="3.4" fill="#a5602a" opacity="0.19"/>
<rect x="42.3" y="519.3" width="0.65" height="3.4" fill="#a5602a" opacity="0.36"/>
<rect x="45.7" y="519.3" width="0.65" height="3.4" fill="#a5602a" opacity="0.27"/>
<rect x="47.1" y="519.3" width="0.65" height="3.4" fill="#a5602a" opacity="0.32"/>
<rect x="49.4" y="519.3" width="0.65" height="3.4" fill="#a5602a" opacity="0.30"/>
<rect x="50.3" y="519.3" width="0.65" height="3.4" fill="#a5602a" opacity="0.36"/>
<rect x="53.6" y="519.3" width="0.65" height="3.4" fill="#a5602a" opacity="0.27"/>
<rect x="59.3" y="519.3" width="0.65" height="3.4" fill="#a5602a" opacity="0.32"/>
<rect x="60.5" y="519.3" width="0.65" height="3.4" fill="#a5602a" opacity="0.18"/>
<rect x="64.7" y="519.3" width="0.65" height="3.4" fill="#a5602a" opacity="0.34"/>
<rect x="67.1" y="519.3" width="0.65" height="3.4" fill="#a5602a" opacity="0.35"/>
<rect x="71.1" y="519.3" width="0.65" height="3.4" fill="#a5602a" opacity="0.32"/>
<rect x="75.3" y="519.3" width="0.65" height="3.4" fill="#a5602a" opacity="0.39"/>
<rect x="77.3" y="519.3" width="0.65" height="3.4" fill="#a5602a" opacity="0.18"/>
<rect x="82.2" y="519.3" width="0.65" height="3.4" fill="#a5602a" opacity="0.37"/>
<rect x="83.8" y="519.3" width="0.65" height="3.4" fill="#a5602a" opacity="0.26"/>
<rect x="87.5" y="519.3" width="0.65" height="3.4" fill="#a5602a" opacity="0.36"/>
<rect x="126.7" y="519.3" width="0.65" height="3.4" fill="#a5602a" opacity="0.30"/>
<rect x="138.8" y="519.3" width="0.65" height="3.4" fill="#a5602a" opacity="0.36"/>
<rect x="152.9" y="519.3" width="0.65" height="3.4" fill="#a5602a" opacity="0.40"/>
<rect x="154.4" y="519.3" width="0.65" height="3.4" fill="#a5602a" opacity="0.32"/>
<rect x="159.9" y="519.3" width="0.65" height="3.4" fill="#a5602a" opacity="0.19"/>
<rect x="173.3" y="519.3" width="0.65" height="3.4" fill="#a5602a" opacity="0.19"/>
<rect x="178.9" y="519.3" width="0.65" height="3.4" fill="#a5602a" opacity="0.31"/>
<rect x="180.4" y="519.3" width="0.65" height="3.4" fill="#a5602a" opacity="0.39"/>
<rect x="190.6" y="519.3" width="0.65" height="3.4" fill="#a5602a" opacity="0.24"/>
<rect x="199.6" y="519.3" width="0.65" height="3.4" fill="#a5602a" opacity="0.21"/>
<rect x="207.7" y="519.3" width="0.65" height="3.4" fill="#a5602a" opacity="0.29"/>
<rect x="212.0" y="519.3" width="0.65" height="3.4" fill="#a5602a" opacity="0.38"/>
<rect x="226.6" y="519.3" width="0.65" height="3.4" fill="#a5602a" opacity="0.34"/>
<rect x="238.6" y="519.3" width="0.65" height="3.4" fill="#a5602a" opacity="0.40"/>
<rect x="29.7" y="523.1" width="0.65" height="3.4" fill="#3d0a3d" opacity="0.40"/>
<rect x="32.0" y="523.1" width="0.65" height="3.4" fill="#3d0a3d" opacity="0.24"/>
<rect x="34.2" y="523.1" width="0.65" height="3.4" fill="#3d0a3d" opacity="0.34"/>
<rect x="35.6" y="523.1" width="0.65" height="3.4" fill="#3d0a3d" opacity="0.18"/>
<rect x="37.7" y="523.1" width="0.65" height="3.4" fill="#3d0a3d" opacity="0.21"/>
<rect x="38.6" y="523.1" width="0.65" height="3.4" fill="#3d0a3d" opacity="0.30"/>
<rect x="39.8" y="523.1" width="0.65" height="3.4" fill="#3d0a3d" opacity="0.38"/>
<rect x="41.0" y="523.1" width="0.65" height="3.4" fill="#3d0a3d" opacity="0.21"/>
<rect x="42.2" y="523.1" width="0.65" height="3.4" fill="#3d0a3d" opacity="0.34"/>
<rect x="43.4" y="523.1" width="0.65" height="3.4" fill="#3d0a3d" opacity="0.20"/>
<rect x="45.2" y="523.1" width="0.65" height="3.4" fill="#3d0a3d" opacity="0.24"/>
<rect x="46.4" y="523.1" width="0.65" height="3.4" fill="#3d0a3d" opacity="0.34"/>
<rect x="48.5" y="523.1" width="0.65" height="3.4" fill="#3d0a3d" opacity="0.22"/>
<rect x="49.5" y="523.1" width="0.65" height="3.4" fill="#3d0a3d" opacity="0.27"/>
<rect x="51.5" y="523.1" width="0.65" height="3.4" fill="#3d0a3d" opacity="0.36"/>
<rect x="55.1" y="523.1" width="0.65" height="3.4" fill="#3d0a3d" opacity="0.18"/>
<rect x="57.3" y="523.1" width="0.65" height="3.4" fill="#3d0a3d" opacity="0.37"/>
<rect x="58.6" y="523.1" width="0.65" height="3.4" fill="#3d0a3d" opacity="0.36"/>
<rect x="60.1" y="523.1" width="0.65" height="3.4" fill="#3d0a3d" opacity="0.26"/>
<rect x="61.9" y="523.1" width="0.65" height="3.4" fill="#3d0a3d" opacity="0.29"/>
<rect x="63.5" y="523.1" width="0.65" height="3.4" fill="#3d0a3d" opacity="0.21"/>
<rect x="67.6" y="523.1" width="0.65" height="3.4" fill="#3d0a3d" opacity="0.34"/>
<rect x="75.8" y="523.1" width="0.65" height="3.4" fill="#3d0a3d" opacity="0.39"/>
<rect x="77.0" y="523.1" width="0.65" height="3.4" fill="#3d0a3d" opacity="0.20"/>
<rect x="79.3" y="523.1" width="0.65" height="3.4" fill="#3d0a3d" opacity="0.33"/>
<rect x="80.4" y="523.1" width="0.65" height="3.4" fill="#3d0a3d" opacity="0.31"/>
<rect x="84.2" y="523.1" width="0.65" height="3.4" fill="#3d0a3d" opacity="0.37"/>
<rect x="86.1" y="523.1" width="0.65" height="3.4" fill="#3d0a3d" opacity="0.21"/>
<rect x="89.1" y="523.1" width="0.65" height="3.4" fill="#3d0a3d" opacity="0.27"/>
<rect x="92.4" y="523.1" width="0.65" height="3.4" fill="#3d0a3d" opacity="0.31"/>
<rect x="94.4" y="523.1" width="0.65" height="3.4" fill="#3d0a3d" opacity="0.36"/>
<rect x="103.7" y="523.1" width="0.65" height="3.4" fill="#3d0a3d" opacity="0.25"/>
<rect x="117.6" y="523.1" width="0.65" height="3.4" fill="#3d0a3d" opacity="0.28"/>
<rect x="119.2" y="523.1" width="0.65" height="3.4" fill="#3d0a3d" opacity="0.21"/>
<rect x="128.2" y="523.1" width="0.65" height="3.4" fill="#3d0a3d" opacity="0.32"/>
<rect x="139.2" y="523.1" width="0.65" height="3.4" fill="#3d0a3d" opacity="0.31"/>
<rect x="144.5" y="523.1" width="0.65" height="3.4" fill="#3d0a3d" opacity="0.21"/>
<rect x="148.4" y="523.1" width="0.65" height="3.4" fill="#3d0a3d" opacity="0.30"/>
<rect x="169.6" y="523.1" width="0.65" height="3.4" fill="#3d0a3d" opacity="0.37"/>
<rect x="171.2" y="523.1" width="0.65" height="3.4" fill="#3d0a3d" opacity="0.27"/>
<rect x="191.1" y="523.1" width="0.65" height="3.4" fill="#3d0a3d" opacity="0.37"/>
<rect x="211.1" y="523.1" width="0.65" height="3.4" fill="#3d0a3d" opacity="0.25"/>
<rect x="214.0" y="523.1" width="0.65" height="3.4" fill="#3d0a3d" opacity="0.38"/>
<rect x="221.0" y="523.1" width="0.65" height="3.4" fill="#3d0a3d" opacity="0.19"/>
<rect x="29.7" y="526.9" width="0.65" height="3.4" fill="#2e86c1" opacity="0.30"/>
<rect x="31.8" y="526.9" width="0.65" height="3.4" fill="#2e86c1" opacity="0.25"/>
<rect x="34.2" y="526.9" width="0.65" height="3.4" fill="#2e86c1" opacity="0.29"/>
<rect x="35.3" y="526.9" width="0.65" height="3.4" fill="#2e86c1" opacity="0.33"/>
<rect x="37.4" y="526.9" width="0.65" height="3.4" fill="#2e86c1" opacity="0.38"/>
<rect x="38.9" y="526.9" width="0.65" height="3.4" fill="#2e86c1" opacity="0.24"/>
<rect x="40.6" y="526.9" width="0.65" height="3.4" fill="#2e86c1" opacity="0.22"/>
<rect x="41.8" y="526.9" width="0.65" height="3.4" fill="#2e86c1" opacity="0.31"/>
<rect x="45.0" y="526.9" width="0.65" height="3.4" fill="#2e86c1" opacity="0.27"/>
<rect x="47.1" y="526.9" width="0.65" height="3.4" fill="#2e86c1" opacity="0.33"/>
<rect x="48.0" y="526.9" width="0.65" height="3.4" fill="#2e86c1" opacity="0.37"/>
<rect x="49.8" y="526.9" width="0.65" height="3.4" fill="#2e86c1" opacity="0.22"/>
<rect x="51.5" y="526.9" width="0.65" height="3.4" fill="#2e86c1" opacity="0.24"/>
<rect x="53.3" y="526.9" width="0.65" height="3.4" fill="#2e86c1" opacity="0.40"/>
<rect x="55.1" y="526.9" width="0.65" height="3.4" fill="#2e86c1" opacity="0.21"/>
<rect x="57.3" y="526.9" width="0.65" height="3.4" fill="#2e86c1" opacity="0.22"/>
<rect x="61.8" y="526.9" width="0.65" height="3.4" fill="#2e86c1" opacity="0.35"/>
<rect x="64.6" y="526.9" width="0.65" height="3.4" fill="#2e86c1" opacity="0.24"/>
<rect x="67.4" y="526.9" width="0.65" height="3.4" fill="#2e86c1" opacity="0.28"/>
<rect x="68.9" y="526.9" width="0.65" height="3.4" fill="#2e86c1" opacity="0.38"/>
<rect x="73.5" y="526.9" width="0.65" height="3.4" fill="#2e86c1" opacity="0.38"/>
<rect x="75.7" y="526.9" width="0.65" height="3.4" fill="#2e86c1" opacity="0.38"/>
<rect x="77.8" y="526.9" width="0.65" height="3.4" fill="#2e86c1" opacity="0.31"/>
<rect x="82.5" y="526.9" width="0.65" height="3.4" fill="#2e86c1" opacity="0.27"/>
<rect x="84.5" y="526.9" width="0.65" height="3.4" fill="#2e86c1" opacity="0.25"/>
<rect x="88.8" y="526.9" width="0.65" height="3.4" fill="#2e86c1" opacity="0.22"/>
<rect x="90.2" y="526.9" width="0.65" height="3.4" fill="#2e86c1" opacity="0.39"/>
<rect x="95.1" y="526.9" width="0.65" height="3.4" fill="#2e86c1" opacity="0.36"/>
<rect x="96.5" y="526.9" width="0.65" height="3.4" fill="#2e86c1" opacity="0.22"/>
<rect x="97.8" y="526.9" width="0.65" height="3.4" fill="#2e86c1" opacity="0.19"/>
<rect x="99.7" y="526.9" width="0.65" height="3.4" fill="#2e86c1" opacity="0.21"/>
<rect x="101.7" y="526.9" width="0.65" height="3.4" fill="#2e86c1" opacity="0.24"/>
<rect x="103.8" y="526.9" width="0.65" height="3.4" fill="#2e86c1" opacity="0.28"/>
<rect x="111.5" y="526.9" width="0.65" height="3.4" fill="#2e86c1" opacity="0.39"/>
<rect x="113.1" y="526.9" width="0.65" height="3.4" fill="#2e86c1" opacity="0.28"/>
<rect x="122.6" y="526.9" width="0.65" height="3.4" fill="#2e86c1" opacity="0.35"/>
<rect x="127.3" y="526.9" width="0.65" height="3.4" fill="#2e86c1" opacity="0.22"/>
<rect x="131.3" y="526.9" width="0.65" height="3.4" fill="#2e86c1" opacity="0.30"/>
<rect x="134.1" y="526.9" width="0.65" height="3.4" fill="#2e86c1" opacity="0.25"/>
<rect x="135.4" y="526.9" width="0.65" height="3.4" fill="#2e86c1" opacity="0.34"/>
<rect x="152.6" y="526.9" width="0.65" height="3.4" fill="#2e86c1" opacity="0.21"/>
<rect x="156.8" y="526.9" width="0.65" height="3.4" fill="#2e86c1" opacity="0.19"/>
<rect x="158.0" y="526.9" width="0.65" height="3.4" fill="#2e86c1" opacity="0.25"/>
<rect x="159.5" y="526.9" width="0.65" height="3.4" fill="#2e86c1" opacity="0.25"/>
<rect x="161.3" y="526.9" width="0.65" height="3.4" fill="#2e86c1" opacity="0.36"/>
<rect x="172.0" y="526.9" width="0.65" height="3.4" fill="#2e86c1" opacity="0.23"/>
<rect x="176.3" y="526.9" width="0.65" height="3.4" fill="#2e86c1" opacity="0.33"/>
<rect x="188.2" y="526.9" width="0.65" height="3.4" fill="#2e86c1" opacity="0.33"/>
<rect x="192.0" y="526.9" width="0.65" height="3.4" fill="#2e86c1" opacity="0.35"/>
<rect x="200.0" y="526.9" width="0.65" height="3.4" fill="#2e86c1" opacity="0.26"/>
<rect x="201.5" y="526.9" width="0.65" height="3.4" fill="#2e86c1" opacity="0.25"/>
<rect x="211.0" y="526.9" width="0.65" height="3.4" fill="#2e86c1" opacity="0.30"/>
<rect x="225.4" y="526.9" width="0.65" height="3.4" fill="#2e86c1" opacity="0.25"/>
<rect x="228.1" y="526.9" width="0.65" height="3.4" fill="#2e86c1" opacity="0.18"/>
<rect x="236.5" y="526.9" width="0.65" height="3.4" fill="#2e86c1" opacity="0.30"/>
<rect x="244.0" y="526.9" width="0.65" height="3.4" fill="#2e86c1" opacity="0.35"/>
<rect x="29.7" y="530.8" width="0.65" height="3.4" fill="#8b1a2e" opacity="0.22"/>
<rect x="31.6" y="530.8" width="0.65" height="3.4" fill="#8b1a2e" opacity="0.38"/>
<rect x="32.7" y="530.8" width="0.65" height="3.4" fill="#8b1a2e" opacity="0.36"/>
<rect x="34.7" y="530.8" width="0.65" height="3.4" fill="#8b1a2e" opacity="0.22"/>
<rect x="36.9" y="530.8" width="0.65" height="3.4" fill="#8b1a2e" opacity="0.26"/>
<rect x="38.6" y="530.8" width="0.65" height="3.4" fill="#8b1a2e" opacity="0.36"/>
<rect x="39.8" y="530.8" width="0.65" height="3.4" fill="#8b1a2e" opacity="0.30"/>
<rect x="41.7" y="530.8" width="0.65" height="3.4" fill="#8b1a2e" opacity="0.34"/>
<rect x="45.6" y="530.8" width="0.65" height="3.4" fill="#8b1a2e" opacity="0.21"/>
<rect x="46.9" y="530.8" width="0.65" height="3.4" fill="#8b1a2e" opacity="0.20"/>
<rect x="48.9" y="530.8" width="0.65" height="3.4" fill="#8b1a2e" opacity="0.28"/>
<rect x="51.2" y="530.8" width="0.65" height="3.4" fill="#8b1a2e" opacity="0.19"/>
<rect x="52.8" y="530.8" width="0.65" height="3.4" fill="#8b1a2e" opacity="0.34"/>
<rect x="57.4" y="530.8" width="0.65" height="3.4" fill="#8b1a2e" opacity="0.33"/>
<rect x="59.1" y="530.8" width="0.65" height="3.4" fill="#8b1a2e" opacity="0.25"/>
<rect x="63.9" y="530.8" width="0.65" height="3.4" fill="#8b1a2e" opacity="0.28"/>
<rect x="65.7" y="530.8" width="0.65" height="3.4" fill="#8b1a2e" opacity="0.22"/>
<rect x="66.7" y="530.8" width="0.65" height="3.4" fill="#8b1a2e" opacity="0.28"/>
<rect x="75.7" y="530.8" width="0.65" height="3.4" fill="#8b1a2e" opacity="0.33"/>
<rect x="77.5" y="530.8" width="0.65" height="3.4" fill="#8b1a2e" opacity="0.31"/>
<rect x="81.7" y="530.8" width="0.65" height="3.4" fill="#8b1a2e" opacity="0.26"/>
<rect x="84.0" y="530.8" width="0.65" height="3.4" fill="#8b1a2e" opacity="0.22"/>
<rect x="92.7" y="530.8" width="0.65" height="3.4" fill="#8b1a2e" opacity="0.38"/>
<rect x="94.4" y="530.8" width="0.65" height="3.4" fill="#8b1a2e" opacity="0.37"/>
<rect x="95.7" y="530.8" width="0.65" height="3.4" fill="#8b1a2e" opacity="0.30"/>
<rect x="98.7" y="530.8" width="0.65" height="3.4" fill="#8b1a2e" opacity="0.31"/>
<rect x="101.6" y="530.8" width="0.65" height="3.4" fill="#8b1a2e" opacity="0.27"/>
<rect x="109.8" y="530.8" width="0.65" height="3.4" fill="#8b1a2e" opacity="0.36"/>
<rect x="111.3" y="530.8" width="0.65" height="3.4" fill="#8b1a2e" opacity="0.39"/>
<rect x="115.1" y="530.8" width="0.65" height="3.4" fill="#8b1a2e" opacity="0.26"/>
<rect x="135.5" y="530.8" width="0.65" height="3.4" fill="#8b1a2e" opacity="0.31"/>
<rect x="138.7" y="530.8" width="0.65" height="3.4" fill="#8b1a2e" opacity="0.38"/>
<rect x="145.0" y="530.8" width="0.65" height="3.4" fill="#8b1a2e" opacity="0.20"/>
<rect x="147.1" y="530.8" width="0.65" height="3.4" fill="#8b1a2e" opacity="0.30"/>
<rect x="149.9" y="530.8" width="0.65" height="3.4" fill="#8b1a2e" opacity="0.37"/>
<rect x="158.9" y="530.8" width="0.65" height="3.4" fill="#8b1a2e" opacity="0.36"/>
<rect x="162.5" y="530.8" width="0.65" height="3.4" fill="#8b1a2e" opacity="0.37"/>
<rect x="165.8" y="530.8" width="0.65" height="3.4" fill="#8b1a2e" opacity="0.25"/>
<rect x="168.8" y="530.8" width="0.65" height="3.4" fill="#8b1a2e" opacity="0.22"/>
<rect x="173.4" y="530.8" width="0.65" height="3.4" fill="#8b1a2e" opacity="0.31"/>
<rect x="174.8" y="530.8" width="0.65" height="3.4" fill="#8b1a2e" opacity="0.28"/>
<rect x="177.2" y="530.8" width="0.65" height="3.4" fill="#8b1a2e" opacity="0.21"/>
<rect x="185.8" y="530.8" width="0.65" height="3.4" fill="#8b1a2e" opacity="0.30"/>
<rect x="203.8" y="530.8" width="0.65" height="3.4" fill="#8b1a2e" opacity="0.25"/>
<rect x="209.5" y="530.8" width="0.65" height="3.4" fill="#8b1a2e" opacity="0.18"/>
<rect x="214.7" y="530.8" width="0.65" height="3.4" fill="#8b1a2e" opacity="0.19"/>
<rect x="223.6" y="530.8" width="0.65" height="3.4" fill="#8b1a2e" opacity="0.31"/>
<rect x="230.3" y="530.8" width="0.65" height="3.4" fill="#8b1a2e" opacity="0.29"/>
<rect x="233.8" y="530.8" width="0.65" height="3.4" fill="#8b1a2e" opacity="0.22"/>
<rect x="29.7" y="534.6" width="0.65" height="3.4" fill="#2ec4d6" opacity="0.21"/>
<rect x="30.9" y="534.6" width="0.65" height="3.4" fill="#2ec4d6" opacity="0.37"/>
<rect x="32.7" y="534.6" width="0.65" height="3.4" fill="#2ec4d6" opacity="0.23"/>
<rect x="34.1" y="534.6" width="0.65" height="3.4" fill="#2ec4d6" opacity="0.32"/>
<rect x="35.6" y="534.6" width="0.65" height="3.4" fill="#2ec4d6" opacity="0.25"/>
<rect x="36.6" y="534.6" width="0.65" height="3.4" fill="#2ec4d6" opacity="0.19"/>
<rect x="38.5" y="534.6" width="0.65" height="3.4" fill="#2ec4d6" opacity="0.29"/>
<rect x="40.3" y="534.6" width="0.65" height="3.4" fill="#2ec4d6" opacity="0.28"/>
<rect x="41.2" y="534.6" width="0.65" height="3.4" fill="#2ec4d6" opacity="0.30"/>
<rect x="43.6" y="534.6" width="0.65" height="3.4" fill="#2ec4d6" opacity="0.32"/>
<rect x="45.6" y="534.6" width="0.65" height="3.4" fill="#2ec4d6" opacity="0.20"/>
<rect x="46.7" y="534.6" width="0.65" height="3.4" fill="#2ec4d6" opacity="0.35"/>
<rect x="47.7" y="534.6" width="0.65" height="3.4" fill="#2ec4d6" opacity="0.27"/>
<rect x="49.4" y="534.6" width="0.65" height="3.4" fill="#2ec4d6" opacity="0.30"/>
<rect x="51.3" y="534.6" width="0.65" height="3.4" fill="#2ec4d6" opacity="0.25"/>
<rect x="53.3" y="534.6" width="0.65" height="3.4" fill="#2ec4d6" opacity="0.34"/>
<rect x="59.1" y="534.6" width="0.65" height="3.4" fill="#2ec4d6" opacity="0.24"/>
<rect x="61.9" y="534.6" width="0.65" height="3.4" fill="#2ec4d6" opacity="0.28"/>
<rect x="67.5" y="534.6" width="0.65" height="3.4" fill="#2ec4d6" opacity="0.21"/>
<rect x="68.5" y="534.6" width="0.65" height="3.4" fill="#2ec4d6" opacity="0.30"/>
<rect x="71.1" y="534.6" width="0.65" height="3.4" fill="#2ec4d6" opacity="0.22"/>
<rect x="74.2" y="534.6" width="0.65" height="3.4" fill="#2ec4d6" opacity="0.35"/>
<rect x="80.2" y="534.6" width="0.65" height="3.4" fill="#2ec4d6" opacity="0.38"/>
<rect x="89.8" y="534.6" width="0.65" height="3.4" fill="#2ec4d6" opacity="0.24"/>
<rect x="91.3" y="534.6" width="0.65" height="3.4" fill="#2ec4d6" opacity="0.22"/>
<rect x="99.3" y="534.6" width="0.65" height="3.4" fill="#2ec4d6" opacity="0.35"/>
<rect x="101.4" y="534.6" width="0.65" height="3.4" fill="#2ec4d6" opacity="0.25"/>
<rect x="112.6" y="534.6" width="0.65" height="3.4" fill="#2ec4d6" opacity="0.37"/>
<rect x="115.0" y="534.6" width="0.65" height="3.4" fill="#2ec4d6" opacity="0.19"/>
<rect x="119.2" y="534.6" width="0.65" height="3.4" fill="#2ec4d6" opacity="0.33"/>
<rect x="125.6" y="534.6" width="0.65" height="3.4" fill="#2ec4d6" opacity="0.35"/>
<rect x="127.6" y="534.6" width="0.65" height="3.4" fill="#2ec4d6" opacity="0.29"/>
<rect x="129.9" y="534.6" width="0.65" height="3.4" fill="#2ec4d6" opacity="0.40"/>
<rect x="137.4" y="534.6" width="0.65" height="3.4" fill="#2ec4d6" opacity="0.26"/>
<rect x="140.4" y="534.6" width="0.65" height="3.4" fill="#2ec4d6" opacity="0.39"/>
<rect x="144.0" y="534.6" width="0.65" height="3.4" fill="#2ec4d6" opacity="0.24"/>
<rect x="145.0" y="534.6" width="0.65" height="3.4" fill="#2ec4d6" opacity="0.29"/>
<rect x="147.9" y="534.6" width="0.65" height="3.4" fill="#2ec4d6" opacity="0.33"/>
<rect x="168.5" y="534.6" width="0.65" height="3.4" fill="#2ec4d6" opacity="0.21"/>
<rect x="172.9" y="534.6" width="0.65" height="3.4" fill="#2ec4d6" opacity="0.33"/>
<rect x="178.4" y="534.6" width="0.65" height="3.4" fill="#2ec4d6" opacity="0.34"/>
<rect x="200.1" y="534.6" width="0.65" height="3.4" fill="#2ec4d6" opacity="0.38"/>
<rect x="204.7" y="534.6" width="0.65" height="3.4" fill="#2ec4d6" opacity="0.36"/>
<rect x="210.7" y="534.6" width="0.65" height="3.4" fill="#2ec4d6" opacity="0.26"/>
<rect x="213.9" y="534.6" width="0.65" height="3.4" fill="#2ec4d6" opacity="0.24"/>
<rect x="218.7" y="534.6" width="0.65" height="3.4" fill="#2ec4d6" opacity="0.27"/>
<rect x="230.9" y="534.6" width="0.65" height="3.4" fill="#2ec4d6" opacity="0.31"/>
<rect x="231.9" y="534.6" width="0.65" height="3.4" fill="#2ec4d6" opacity="0.34"/>
<rect x="237.7" y="534.6" width="0.65" height="3.4" fill="#2ec4d6" opacity="0.27"/>
<rect x="241.2" y="534.6" width="0.65" height="3.4" fill="#2ec4d6" opacity="0.28"/>
<line x1="29.2" y1="538.9" x2="245" y2="538.9" stroke="#333" stroke-width="1.3"/>
<polyline points="30.5,479.0 31.5,460.0 33.1,441.0 36.9,428.3 40.7,410.5 43.3,404.2 48.0,394.0 54.1,382.0 56.4,380.8 61.1,382.6 67.0,384.3 74.0,387.9 84.5,394.0 100.0,404.9 130.0,428.0 150.0,443.0 180.0,466.0 200.0,479.0 208.0,485.0 212.5,487.4 221.8,489.6 232.8,493.0 238.0,490.0 244.5,485.0" fill="none" stroke="#8b1a2e" stroke-width="2.3" stroke-linejoin="round"/>
<polyline points="29.8,479.0 31.0,465.0 34.0,440.0 38.0,418.0 43.0,400.0 50.0,391.0 57.6,386.7 63.4,387.9 70.5,390.2 78.7,393.7 86.9,397.2 100.0,403.0 130.3,430.0 179.9,470.0 200.0,478.5 215.0,480.5 228.0,484.3 241.0,487.6 244.5,485.0" fill="none" stroke="#6b4a6b" stroke-width="2.3" stroke-linejoin="round"/>
<polyline points="29.8,479.0 31.0,465.0 34.0,440.0 38.0,420.0 42.0,405.0 47.0,392.0 52.0,384.0 58.0,381.0 64.0,381.0 68.0,381.9 68.6,376.2 72.8,376.1 78.7,377.3 83.0,378.5 90.0,382.5 100.0,390.0 150.0,430.0 200.0,469.0 215.0,480.0 228.0,486.0 238.0,486.0 244.5,485.0" fill="none" stroke="#3d0a3d" stroke-width="2.3" stroke-linejoin="round"/>
<polyline points="29.8,479.0 31.0,462.0 34.0,438.0 38.0,418.0 43.3,404.2 47.0,394.0 52.0,387.0 58.8,380.2 64.6,378.5 69.3,379.7 75.2,382.6 86.9,389.0 100.0,394.6 139.0,430.0 190.4,470.0 205.0,480.0 220.0,486.0 225.0,492.0 232.0,491.0 239.0,491.0 244.5,485.0" fill="none" stroke="#2ec4d6" stroke-width="2.3" stroke-linejoin="round"/>
<polyline points="29.8,479.0 31.0,462.0 34.0,438.0 38.0,418.0 43.3,403.0 47.0,393.0 52.0,386.0 58.0,381.0 62.6,378.8 67.9,377.6 69.6,379.7 78.4,383.5 85.0,386.4 100.0,393.5 139.0,428.5 175.0,457.2 200.0,472.0 220.0,479.5 234.0,482.8 237.0,484.0 241.0,481.0 244.5,485.0" fill="none" stroke="#2e86c1" stroke-width="2.3" stroke-linejoin="round"/>
<polyline points="29.8,479.0 31.0,465.0 33.0,445.0 36.0,425.0 40.7,405.4 42.6,401.6 47.1,396.5 50.9,392.7 53.4,387.6 54.1,385.5 61.1,383.8 67.0,380.8 70.5,383.2 75.2,384.3 82.2,386.1 89.2,387.3 100.0,391.0 150.0,427.0 200.0,466.2 208.6,472.0 228.0,481.0 240.0,484.0 244.5,485.0" fill="none" stroke="#a5602a" stroke-width="2.3" stroke-linejoin="round"/>
<polyline points="29.8,480.0 31.0,468.0 33.1,450.0 35.6,436.0 38.2,418.2 42.0,397.8 45.9,389.0 47.1,387.6 50.9,379.0 55.2,369.7 58.8,367.3 61.7,365.6 63.4,367.3 65.8,368.0 75.2,371.4 84.5,376.1 92.8,381.4 100.0,386.3 150.0,425.9 200.0,465.1 208.6,470.8 228.0,478.6 240.0,482.0 244.5,485.0" fill="none" stroke="#c8c04a" stroke-width="2.3" stroke-linejoin="round"/>
<polyline points="29.8,479.0 30.5,455.0 32.0,435.0 34.0,420.0 35.6,411.8 38.0,402.0 40.7,395.3 44.5,387.6 47.1,380.0 49.4,371.0 52.0,367.0 55.0,363.5 58.0,362.5 65.5,360.6 70.5,360.0 75.5,362.5 83.0,366.5 90.0,369.8 100.0,377.5 110.0,384.5 113.0,386.0 116.0,387.0 150.0,415.6 200.0,456.9 208.6,464.0 218.0,471.0 228.0,476.6 236.0,478.6 240.0,480.0 244.5,485.0" fill="none" stroke="#7858a6" stroke-width="2.3" stroke-linejoin="round"/>
<polyline points="29.8,479.0 30.0,445.0 31.0,430.0 34.4,391.5 35.0,390.2 41.4,389.5 41.6,362.5 46.0,360.6 54.9,367.5 62.4,371.9 63.6,373.8 64.9,364.4 69.2,365.0 80.5,374.4 92.0,385.0 100.0,391.2 143.9,430.0 195.0,469.0 200.0,471.3 210.0,477.0 225.0,487.0 234.0,490.3 242.0,487.6 244.5,485.0" fill="none" stroke="#f0386b" stroke-width="2.3" stroke-linejoin="round"/>
<polyline points="29.8,479.0 30.2,465.0 30.5,448.7 33.1,430.9 35.6,418.2 38.2,405.4 40.7,396.5 44.5,392.7 49.6,388.9 54.7,386.4 61.1,385.5 65.8,384.3 70.5,385.5 75.2,385.5 86.9,391.4 100.0,399.0 136.6,430.0 186.9,470.0 208.6,484.5 225.0,490.0 233.6,496.6 235.5,494.5 240.5,493.2 242.5,489.0 244.5,485.0" fill="none" stroke="#2ecc71" stroke-width="2.3" stroke-linejoin="round"/>
<text transform="translate(117.7,545.5) scale(0.84,1)" font-size="6.2" font-weight="bold" text-anchor="end" font-family="'Liberation Serif', serif" fill="#111" stroke="#111" stroke-width="0.3">high expression</text>
<text transform="translate(154.5,545.5) scale(0.866,1)" font-size="6.2" font-weight="bold" text-anchor="start" font-family="'Liberation Serif', serif" fill="#111" stroke="#111" stroke-width="0.3">low expression</text>
<path d="M120.1,542.1 L118.39999999999999,543.4 L120.1,544.6999999999999" fill="none" stroke="#444" stroke-width="0.45"/>
<line x1="118.6" y1="543.4" x2="153.9" y2="543.4" stroke="#444" stroke-width="0.55" stroke-dasharray="1.3,0.5"/>
<path d="M152.3,542.1 L154.0,543.4 L152.3,544.6999999999999" fill="none" stroke="#444" stroke-width="0.45"/>
<line x1="278.8" y1="368.2" x2="278.8" y2="488" stroke="#444" stroke-width="1.1"/>
<line x1="277.0" y1="474.80" x2="278.8" y2="474.80" stroke="#444" stroke-width="0.6"/>
<text transform="translate(275.8,476.40) scale(0.855,1)" font-size="4.8" font-weight="normal" text-anchor="end" font-family="'Liberation Serif', serif" fill="#222" stroke="#222" stroke-width="0.3">0.0</text>
<line x1="277.0" y1="443.30" x2="278.8" y2="443.30" stroke="#444" stroke-width="0.6"/>
<text transform="translate(275.8,444.90) scale(0.855,1)" font-size="4.8" font-weight="normal" text-anchor="end" font-family="'Liberation Serif', serif" fill="#222" stroke="#222" stroke-width="0.3">0.2</text>
<line x1="277.0" y1="411.80" x2="278.8" y2="411.80" stroke="#444" stroke-width="0.6"/>
<text transform="translate(275.8,413.40) scale(0.855,1)" font-size="4.8" font-weight="normal" text-anchor="end" font-family="'Liberation Serif', serif" fill="#222" stroke="#222" stroke-width="0.3">0.4</text>
<line x1="277.0" y1="380.30" x2="278.8" y2="380.30" stroke="#444" stroke-width="0.6"/>
<text transform="translate(275.8,381.90) scale(0.855,1)" font-size="4.8" font-weight="normal" text-anchor="end" font-family="'Liberation Serif', serif" fill="#222" stroke="#222" stroke-width="0.3">0.6</text>
<line x1="278.8" y1="474.8" x2="484" y2="474.8" stroke="#222" stroke-width="1.1"/>
<rect x="279.3" y="501.7" width="0.65" height="3.0" fill="#2ecc71" opacity="0.22"/>
<rect x="280.8" y="501.7" width="0.65" height="3.0" fill="#2ecc71" opacity="0.33"/>
<rect x="282.0" y="501.7" width="0.65" height="3.0" fill="#2ecc71" opacity="0.29"/>
<rect x="283.4" y="501.7" width="0.65" height="3.0" fill="#2ecc71" opacity="0.22"/>
<rect x="284.4" y="501.7" width="0.65" height="3.0" fill="#2ecc71" opacity="0.23"/>
<rect x="286.1" y="501.7" width="0.65" height="3.0" fill="#2ecc71" opacity="0.33"/>
<rect x="288.2" y="501.7" width="0.65" height="3.0" fill="#2ecc71" opacity="0.27"/>
<rect x="289.7" y="501.7" width="0.65" height="3.0" fill="#2ecc71" opacity="0.32"/>
<rect x="291.3" y="501.7" width="0.65" height="3.0" fill="#2ecc71" opacity="0.33"/>
<rect x="292.8" y="501.7" width="0.65" height="3.0" fill="#2ecc71" opacity="0.25"/>
<rect x="295.0" y="501.7" width="0.65" height="3.0" fill="#2ecc71" opacity="0.30"/>
<rect x="296.5" y="501.7" width="0.65" height="3.0" fill="#2ecc71" opacity="0.29"/>
<rect x="298.2" y="501.7" width="0.65" height="3.0" fill="#2ecc71" opacity="0.30"/>
<rect x="299.3" y="501.7" width="0.65" height="3.0" fill="#2ecc71" opacity="0.17"/>
<rect x="301.4" y="501.7" width="0.65" height="3.0" fill="#2ecc71" opacity="0.17"/>
<rect x="303.4" y="501.7" width="0.65" height="3.0" fill="#2ecc71" opacity="0.16"/>
<rect x="305.4" y="501.7" width="0.65" height="3.0" fill="#2ecc71" opacity="0.25"/>
<rect x="306.3" y="501.7" width="0.65" height="3.0" fill="#2ecc71" opacity="0.23"/>
<rect x="311.4" y="501.7" width="0.65" height="3.0" fill="#2ecc71" opacity="0.25"/>
<rect x="313.6" y="501.7" width="0.65" height="3.0" fill="#2ecc71" opacity="0.21"/>
<rect x="316.6" y="501.7" width="0.65" height="3.0" fill="#2ecc71" opacity="0.23"/>
<rect x="317.6" y="501.7" width="0.65" height="3.0" fill="#2ecc71" opacity="0.32"/>
<rect x="321.0" y="501.7" width="0.65" height="3.0" fill="#2ecc71" opacity="0.16"/>
<rect x="322.7" y="501.7" width="0.65" height="3.0" fill="#2ecc71" opacity="0.24"/>
<rect x="324.3" y="501.7" width="0.65" height="3.0" fill="#2ecc71" opacity="0.22"/>
<rect x="326.4" y="501.7" width="0.65" height="3.0" fill="#2ecc71" opacity="0.33"/>
<rect x="328.1" y="501.7" width="0.65" height="3.0" fill="#2ecc71" opacity="0.21"/>
<rect x="329.8" y="501.7" width="0.65" height="3.0" fill="#2ecc71" opacity="0.26"/>
<rect x="331.2" y="501.7" width="0.65" height="3.0" fill="#2ecc71" opacity="0.31"/>
<rect x="338.8" y="501.7" width="0.65" height="3.0" fill="#2ecc71" opacity="0.28"/>
<rect x="347.2" y="501.7" width="0.65" height="3.0" fill="#2ecc71" opacity="0.19"/>
<rect x="349.4" y="501.7" width="0.65" height="3.0" fill="#2ecc71" opacity="0.33"/>
<rect x="350.6" y="501.7" width="0.65" height="3.0" fill="#2ecc71" opacity="0.17"/>
<rect x="357.4" y="501.7" width="0.65" height="3.0" fill="#2ecc71" opacity="0.16"/>
<rect x="359.4" y="501.7" width="0.65" height="3.0" fill="#2ecc71" opacity="0.32"/>
<rect x="360.7" y="501.7" width="0.65" height="3.0" fill="#2ecc71" opacity="0.27"/>
<rect x="370.9" y="501.7" width="0.65" height="3.0" fill="#2ecc71" opacity="0.26"/>
<rect x="375.9" y="501.7" width="0.65" height="3.0" fill="#2ecc71" opacity="0.32"/>
<rect x="381.0" y="501.7" width="0.65" height="3.0" fill="#2ecc71" opacity="0.22"/>
<rect x="385.4" y="501.7" width="0.65" height="3.0" fill="#2ecc71" opacity="0.25"/>
<rect x="389.3" y="501.7" width="0.65" height="3.0" fill="#2ecc71" opacity="0.18"/>
<rect x="392.7" y="501.7" width="0.65" height="3.0" fill="#2ecc71" opacity="0.33"/>
<rect x="400.9" y="501.7" width="0.65" height="3.0" fill="#2ecc71" opacity="0.30"/>
<rect x="403.4" y="501.7" width="0.65" height="3.0" fill="#2ecc71" opacity="0.26"/>
<rect x="408.1" y="501.7" width="0.65" height="3.0" fill="#2ecc71" opacity="0.25"/>
<rect x="413.6" y="501.7" width="0.65" height="3.0" fill="#2ecc71" opacity="0.18"/>
<rect x="419.7" y="501.7" width="0.65" height="3.0" fill="#2ecc71" opacity="0.17"/>
<rect x="421.9" y="501.7" width="0.65" height="3.0" fill="#2ecc71" opacity="0.25"/>
<rect x="423.6" y="501.7" width="0.65" height="3.0" fill="#2ecc71" opacity="0.24"/>
<rect x="428.8" y="501.7" width="0.65" height="3.0" fill="#2ecc71" opacity="0.20"/>
<rect x="433.3" y="501.7" width="0.65" height="3.0" fill="#2ecc71" opacity="0.34"/>
<rect x="439.0" y="501.7" width="0.65" height="3.0" fill="#2ecc71" opacity="0.16"/>
<rect x="447.2" y="501.7" width="0.65" height="3.0" fill="#2ecc71" opacity="0.27"/>
<rect x="449.6" y="501.7" width="0.65" height="3.0" fill="#2ecc71" opacity="0.27"/>
<rect x="458.0" y="501.7" width="0.65" height="3.0" fill="#2ecc71" opacity="0.30"/>
<rect x="459.9" y="501.7" width="0.65" height="3.0" fill="#2ecc71" opacity="0.22"/>
<rect x="461.0" y="501.7" width="0.65" height="3.0" fill="#2ecc71" opacity="0.19"/>
<rect x="476.4" y="501.7" width="0.65" height="3.0" fill="#2ecc71" opacity="0.34"/>
<rect x="279.3" y="505.1" width="0.65" height="3.0" fill="#6b4a6b" opacity="0.24"/>
<rect x="283.6" y="505.1" width="0.65" height="3.0" fill="#6b4a6b" opacity="0.34"/>
<rect x="288.5" y="505.1" width="0.65" height="3.0" fill="#6b4a6b" opacity="0.32"/>
<rect x="289.7" y="505.1" width="0.65" height="3.0" fill="#6b4a6b" opacity="0.24"/>
<rect x="295.2" y="505.1" width="0.65" height="3.0" fill="#6b4a6b" opacity="0.31"/>
<rect x="301.1" y="505.1" width="0.65" height="3.0" fill="#6b4a6b" opacity="0.28"/>
<rect x="303.3" y="505.1" width="0.65" height="3.0" fill="#6b4a6b" opacity="0.27"/>
<rect x="307.3" y="505.1" width="0.65" height="3.0" fill="#6b4a6b" opacity="0.31"/>
<rect x="315.1" y="505.1" width="0.65" height="3.0" fill="#6b4a6b" opacity="0.20"/>
<rect x="333.8" y="505.1" width="0.65" height="3.0" fill="#6b4a6b" opacity="0.32"/>
<rect x="335.8" y="505.1" width="0.65" height="3.0" fill="#6b4a6b" opacity="0.34"/>
<rect x="365.6" y="505.1" width="0.65" height="3.0" fill="#6b4a6b" opacity="0.22"/>
<rect x="403.6" y="505.1" width="0.65" height="3.0" fill="#6b4a6b" opacity="0.20"/>
<rect x="426.3" y="505.1" width="0.65" height="3.0" fill="#6b4a6b" opacity="0.32"/>
<rect x="431.6" y="505.1" width="0.65" height="3.0" fill="#6b4a6b" opacity="0.26"/>
<rect x="476.8" y="505.1" width="0.65" height="3.0" fill="#6b4a6b" opacity="0.27"/>
<rect x="281.7" y="508.4" width="0.65" height="3.0" fill="#c8c04a" opacity="0.28"/>
<rect x="282.8" y="508.4" width="0.65" height="3.0" fill="#c8c04a" opacity="0.16"/>
<rect x="286.5" y="508.4" width="0.65" height="3.0" fill="#c8c04a" opacity="0.32"/>
<rect x="287.5" y="508.4" width="0.65" height="3.0" fill="#c8c04a" opacity="0.28"/>
<rect x="289.0" y="508.4" width="0.65" height="3.0" fill="#c8c04a" opacity="0.26"/>
<rect x="296.9" y="508.4" width="0.65" height="3.0" fill="#c8c04a" opacity="0.28"/>
<rect x="302.2" y="508.4" width="0.65" height="3.0" fill="#c8c04a" opacity="0.32"/>
<rect x="309.3" y="508.4" width="0.65" height="3.0" fill="#c8c04a" opacity="0.25"/>
<rect x="316.4" y="508.4" width="0.65" height="3.0" fill="#c8c04a" opacity="0.30"/>
<rect x="343.2" y="508.4" width="0.65" height="3.0" fill="#c8c04a" opacity="0.18"/>
<rect x="351.9" y="508.4" width="0.65" height="3.0" fill="#c8c04a" opacity="0.17"/>
<rect x="365.3" y="508.4" width="0.65" height="3.0" fill="#c8c04a" opacity="0.19"/>
<rect x="372.8" y="508.4" width="0.65" height="3.0" fill="#c8c04a" opacity="0.21"/>
<rect x="386.8" y="508.4" width="0.65" height="3.0" fill="#c8c04a" opacity="0.29"/>
<rect x="406.0" y="508.4" width="0.65" height="3.0" fill="#c8c04a" opacity="0.17"/>
<rect x="409.4" y="508.4" width="0.65" height="3.0" fill="#c8c04a" opacity="0.20"/>
<rect x="428.8" y="508.4" width="0.65" height="3.0" fill="#c8c04a" opacity="0.32"/>
<rect x="435.0" y="508.4" width="0.65" height="3.0" fill="#c8c04a" opacity="0.26"/>
<rect x="455.4" y="508.4" width="0.65" height="3.0" fill="#c8c04a" opacity="0.17"/>
<rect x="468.6" y="508.4" width="0.65" height="3.0" fill="#c8c04a" opacity="0.29"/>
<rect x="283.0" y="511.8" width="0.65" height="3.0" fill="#f0386b" opacity="0.23"/>
<rect x="283.9" y="511.8" width="0.65" height="3.0" fill="#f0386b" opacity="0.33"/>
<rect x="286.2" y="511.8" width="0.65" height="3.0" fill="#f0386b" opacity="0.30"/>
<rect x="296.6" y="511.8" width="0.65" height="3.0" fill="#f0386b" opacity="0.26"/>
<rect x="305.4" y="511.8" width="0.65" height="3.0" fill="#f0386b" opacity="0.19"/>
<rect x="307.7" y="511.8" width="0.65" height="3.0" fill="#f0386b" opacity="0.29"/>
<rect x="310.0" y="511.8" width="0.65" height="3.0" fill="#f0386b" opacity="0.24"/>
<rect x="315.3" y="511.8" width="0.65" height="3.0" fill="#f0386b" opacity="0.16"/>
<rect x="317.2" y="511.8" width="0.65" height="3.0" fill="#f0386b" opacity="0.20"/>
<rect x="324.5" y="511.8" width="0.65" height="3.0" fill="#f0386b" opacity="0.16"/>
<rect x="326.5" y="511.8" width="0.65" height="3.0" fill="#f0386b" opacity="0.25"/>
<rect x="331.3" y="511.8" width="0.65" height="3.0" fill="#f0386b" opacity="0.21"/>
<rect x="342.5" y="511.8" width="0.65" height="3.0" fill="#f0386b" opacity="0.19"/>
<rect x="344.7" y="511.8" width="0.65" height="3.0" fill="#f0386b" opacity="0.28"/>
<rect x="347.7" y="511.8" width="0.65" height="3.0" fill="#f0386b" opacity="0.17"/>
<rect x="353.2" y="511.8" width="0.65" height="3.0" fill="#f0386b" opacity="0.15"/>
<rect x="355.4" y="511.8" width="0.65" height="3.0" fill="#f0386b" opacity="0.34"/>
<rect x="360.9" y="511.8" width="0.65" height="3.0" fill="#f0386b" opacity="0.20"/>
<rect x="377.1" y="511.8" width="0.65" height="3.0" fill="#f0386b" opacity="0.17"/>
<rect x="381.0" y="511.8" width="0.65" height="3.0" fill="#f0386b" opacity="0.22"/>
<rect x="384.4" y="511.8" width="0.65" height="3.0" fill="#f0386b" opacity="0.19"/>
<rect x="401.8" y="511.8" width="0.65" height="3.0" fill="#f0386b" opacity="0.24"/>
<rect x="410.4" y="511.8" width="0.65" height="3.0" fill="#f0386b" opacity="0.24"/>
<rect x="426.8" y="511.8" width="0.65" height="3.0" fill="#f0386b" opacity="0.19"/>
<rect x="435.2" y="511.8" width="0.65" height="3.0" fill="#f0386b" opacity="0.34"/>
<rect x="463.4" y="511.8" width="0.65" height="3.0" fill="#f0386b" opacity="0.20"/>
<rect x="473.3" y="511.8" width="0.65" height="3.0" fill="#f0386b" opacity="0.33"/>
<rect x="474.4" y="511.8" width="0.65" height="3.0" fill="#f0386b" opacity="0.21"/>
<rect x="279.3" y="515.1" width="0.65" height="3.0" fill="#7858a6" opacity="0.27"/>
<rect x="283.7" y="515.1" width="0.65" height="3.0" fill="#7858a6" opacity="0.17"/>
<rect x="286.0" y="515.1" width="0.65" height="3.0" fill="#7858a6" opacity="0.19"/>
<rect x="287.9" y="515.1" width="0.65" height="3.0" fill="#7858a6" opacity="0.20"/>
<rect x="289.4" y="515.1" width="0.65" height="3.0" fill="#7858a6" opacity="0.29"/>
<rect x="292.2" y="515.1" width="0.65" height="3.0" fill="#7858a6" opacity="0.28"/>
<rect x="294.3" y="515.1" width="0.65" height="3.0" fill="#7858a6" opacity="0.25"/>
<rect x="298.1" y="515.1" width="0.65" height="3.0" fill="#7858a6" opacity="0.34"/>
<rect x="300.2" y="515.1" width="0.65" height="3.0" fill="#7858a6" opacity="0.24"/>
<rect x="302.5" y="515.1" width="0.65" height="3.0" fill="#7858a6" opacity="0.23"/>
<rect x="309.6" y="515.1" width="0.65" height="3.0" fill="#7858a6" opacity="0.19"/>
<rect x="310.8" y="515.1" width="0.65" height="3.0" fill="#7858a6" opacity="0.16"/>
<rect x="311.9" y="515.1" width="0.65" height="3.0" fill="#7858a6" opacity="0.23"/>
<rect x="318.3" y="515.1" width="0.65" height="3.0" fill="#7858a6" opacity="0.25"/>
<rect x="329.0" y="515.1" width="0.65" height="3.0" fill="#7858a6" opacity="0.30"/>
<rect x="330.4" y="515.1" width="0.65" height="3.0" fill="#7858a6" opacity="0.31"/>
<rect x="335.6" y="515.1" width="0.65" height="3.0" fill="#7858a6" opacity="0.26"/>
<rect x="337.6" y="515.1" width="0.65" height="3.0" fill="#7858a6" opacity="0.16"/>
<rect x="338.5" y="515.1" width="0.65" height="3.0" fill="#7858a6" opacity="0.29"/>
<rect x="339.4" y="515.1" width="0.65" height="3.0" fill="#7858a6" opacity="0.20"/>
<rect x="342.3" y="515.1" width="0.65" height="3.0" fill="#7858a6" opacity="0.34"/>
<rect x="344.6" y="515.1" width="0.65" height="3.0" fill="#7858a6" opacity="0.22"/>
<rect x="349.1" y="515.1" width="0.65" height="3.0" fill="#7858a6" opacity="0.17"/>
<rect x="350.3" y="515.1" width="0.65" height="3.0" fill="#7858a6" opacity="0.27"/>
<rect x="358.6" y="515.1" width="0.65" height="3.0" fill="#7858a6" opacity="0.18"/>
<rect x="370.2" y="515.1" width="0.65" height="3.0" fill="#7858a6" opacity="0.28"/>
<rect x="372.0" y="515.1" width="0.65" height="3.0" fill="#7858a6" opacity="0.19"/>
<rect x="373.8" y="515.1" width="0.65" height="3.0" fill="#7858a6" opacity="0.28"/>
<rect x="378.5" y="515.1" width="0.65" height="3.0" fill="#7858a6" opacity="0.29"/>
<rect x="397.2" y="515.1" width="0.65" height="3.0" fill="#7858a6" opacity="0.25"/>
<rect x="401.7" y="515.1" width="0.65" height="3.0" fill="#7858a6" opacity="0.25"/>
<rect x="407.5" y="515.1" width="0.65" height="3.0" fill="#7858a6" opacity="0.16"/>
<rect x="425.1" y="515.1" width="0.65" height="3.0" fill="#7858a6" opacity="0.24"/>
<rect x="435.1" y="515.1" width="0.65" height="3.0" fill="#7858a6" opacity="0.17"/>
<rect x="442.4" y="515.1" width="0.65" height="3.0" fill="#7858a6" opacity="0.20"/>
<rect x="444.8" y="515.1" width="0.65" height="3.0" fill="#7858a6" opacity="0.20"/>
<rect x="458.1" y="515.1" width="0.65" height="3.0" fill="#7858a6" opacity="0.31"/>
<rect x="483.1" y="515.1" width="0.65" height="3.0" fill="#7858a6" opacity="0.20"/>
<rect x="279.3" y="518.5" width="0.65" height="3.0" fill="#a5602a" opacity="0.28"/>
<rect x="281.5" y="518.5" width="0.65" height="3.0" fill="#a5602a" opacity="0.20"/>
<rect x="283.8" y="518.5" width="0.65" height="3.0" fill="#a5602a" opacity="0.35"/>
<rect x="285.8" y="518.5" width="0.65" height="3.0" fill="#a5602a" opacity="0.31"/>
<rect x="287.1" y="518.5" width="0.65" height="3.0" fill="#a5602a" opacity="0.23"/>
<rect x="289.2" y="518.5" width="0.65" height="3.0" fill="#a5602a" opacity="0.26"/>
<rect x="299.2" y="518.5" width="0.65" height="3.0" fill="#a5602a" opacity="0.32"/>
<rect x="301.0" y="518.5" width="0.65" height="3.0" fill="#a5602a" opacity="0.22"/>
<rect x="305.2" y="518.5" width="0.65" height="3.0" fill="#a5602a" opacity="0.22"/>
<rect x="306.5" y="518.5" width="0.65" height="3.0" fill="#a5602a" opacity="0.22"/>
<rect x="308.7" y="518.5" width="0.65" height="3.0" fill="#a5602a" opacity="0.16"/>
<rect x="310.7" y="518.5" width="0.65" height="3.0" fill="#a5602a" opacity="0.24"/>
<rect x="314.5" y="518.5" width="0.65" height="3.0" fill="#a5602a" opacity="0.28"/>
<rect x="322.2" y="518.5" width="0.65" height="3.0" fill="#a5602a" opacity="0.27"/>
<rect x="332.7" y="518.5" width="0.65" height="3.0" fill="#a5602a" opacity="0.33"/>
<rect x="336.8" y="518.5" width="0.65" height="3.0" fill="#a5602a" opacity="0.25"/>
<rect x="340.4" y="518.5" width="0.65" height="3.0" fill="#a5602a" opacity="0.30"/>
<rect x="342.5" y="518.5" width="0.65" height="3.0" fill="#a5602a" opacity="0.33"/>
<rect x="348.6" y="518.5" width="0.65" height="3.0" fill="#a5602a" opacity="0.21"/>
<rect x="358.4" y="518.5" width="0.65" height="3.0" fill="#a5602a" opacity="0.33"/>
<rect x="381.5" y="518.5" width="0.65" height="3.0" fill="#a5602a" opacity="0.22"/>
<rect x="397.0" y="518.5" width="0.65" height="3.0" fill="#a5602a" opacity="0.34"/>
<rect x="398.5" y="518.5" width="0.65" height="3.0" fill="#a5602a" opacity="0.16"/>
<rect x="420.6" y="518.5" width="0.65" height="3.0" fill="#a5602a" opacity="0.18"/>
<rect x="442.3" y="518.5" width="0.65" height="3.0" fill="#a5602a" opacity="0.22"/>
<rect x="450.5" y="518.5" width="0.65" height="3.0" fill="#a5602a" opacity="0.33"/>
<rect x="452.6" y="518.5" width="0.65" height="3.0" fill="#a5602a" opacity="0.21"/>
<rect x="279.3" y="521.8" width="0.65" height="3.0" fill="#3d0a3d" opacity="0.30"/>
<rect x="281.5" y="521.8" width="0.65" height="3.0" fill="#3d0a3d" opacity="0.17"/>
<rect x="283.7" y="521.8" width="0.65" height="3.0" fill="#3d0a3d" opacity="0.27"/>
<rect x="286.1" y="521.8" width="0.65" height="3.0" fill="#3d0a3d" opacity="0.16"/>
<rect x="287.1" y="521.8" width="0.65" height="3.0" fill="#3d0a3d" opacity="0.29"/>
<rect x="289.0" y="521.8" width="0.65" height="3.0" fill="#3d0a3d" opacity="0.18"/>
<rect x="290.2" y="521.8" width="0.65" height="3.0" fill="#3d0a3d" opacity="0.28"/>
<rect x="292.5" y="521.8" width="0.65" height="3.0" fill="#3d0a3d" opacity="0.35"/>
<rect x="294.1" y="521.8" width="0.65" height="3.0" fill="#3d0a3d" opacity="0.20"/>
<rect x="298.9" y="521.8" width="0.65" height="3.0" fill="#3d0a3d" opacity="0.18"/>
<rect x="301.3" y="521.8" width="0.65" height="3.0" fill="#3d0a3d" opacity="0.29"/>
<rect x="302.2" y="521.8" width="0.65" height="3.0" fill="#3d0a3d" opacity="0.31"/>
<rect x="304.0" y="521.8" width="0.65" height="3.0" fill="#3d0a3d" opacity="0.33"/>
<rect x="305.8" y="521.8" width="0.65" height="3.0" fill="#3d0a3d" opacity="0.23"/>
<rect x="311.5" y="521.8" width="0.65" height="3.0" fill="#3d0a3d" opacity="0.23"/>
<rect x="313.4" y="521.8" width="0.65" height="3.0" fill="#3d0a3d" opacity="0.31"/>
<rect x="325.4" y="521.8" width="0.65" height="3.0" fill="#3d0a3d" opacity="0.23"/>
<rect x="332.8" y="521.8" width="0.65" height="3.0" fill="#3d0a3d" opacity="0.30"/>
<rect x="336.9" y="521.8" width="0.65" height="3.0" fill="#3d0a3d" opacity="0.33"/>
<rect x="340.0" y="521.8" width="0.65" height="3.0" fill="#3d0a3d" opacity="0.30"/>
<rect x="345.8" y="521.8" width="0.65" height="3.0" fill="#3d0a3d" opacity="0.31"/>
<rect x="346.8" y="521.8" width="0.65" height="3.0" fill="#3d0a3d" opacity="0.17"/>
<rect x="351.0" y="521.8" width="0.65" height="3.0" fill="#3d0a3d" opacity="0.30"/>
<rect x="352.9" y="521.8" width="0.65" height="3.0" fill="#3d0a3d" opacity="0.25"/>
<rect x="354.9" y="521.8" width="0.65" height="3.0" fill="#3d0a3d" opacity="0.28"/>
<rect x="378.8" y="521.8" width="0.65" height="3.0" fill="#3d0a3d" opacity="0.25"/>
<rect x="382.1" y="521.8" width="0.65" height="3.0" fill="#3d0a3d" opacity="0.24"/>
<rect x="387.9" y="521.8" width="0.65" height="3.0" fill="#3d0a3d" opacity="0.18"/>
<rect x="390.1" y="521.8" width="0.65" height="3.0" fill="#3d0a3d" opacity="0.19"/>
<rect x="404.1" y="521.8" width="0.65" height="3.0" fill="#3d0a3d" opacity="0.33"/>
<rect x="416.2" y="521.8" width="0.65" height="3.0" fill="#3d0a3d" opacity="0.24"/>
<rect x="426.3" y="521.8" width="0.65" height="3.0" fill="#3d0a3d" opacity="0.27"/>
<rect x="447.1" y="521.8" width="0.65" height="3.0" fill="#3d0a3d" opacity="0.26"/>
<rect x="456.4" y="521.8" width="0.65" height="3.0" fill="#3d0a3d" opacity="0.24"/>
<rect x="460.5" y="521.8" width="0.65" height="3.0" fill="#3d0a3d" opacity="0.23"/>
<rect x="464.9" y="521.8" width="0.65" height="3.0" fill="#3d0a3d" opacity="0.19"/>
<rect x="474.4" y="521.8" width="0.65" height="3.0" fill="#3d0a3d" opacity="0.32"/>
<rect x="476.8" y="521.8" width="0.65" height="3.0" fill="#3d0a3d" opacity="0.30"/>
<rect x="478.1" y="521.8" width="0.65" height="3.0" fill="#3d0a3d" opacity="0.22"/>
<rect x="279.3" y="525.2" width="0.65" height="3.0" fill="#2e86c1" opacity="0.18"/>
<rect x="281.3" y="525.2" width="0.65" height="3.0" fill="#2e86c1" opacity="0.22"/>
<rect x="283.5" y="525.2" width="0.65" height="3.0" fill="#2e86c1" opacity="0.18"/>
<rect x="284.7" y="525.2" width="0.65" height="3.0" fill="#2e86c1" opacity="0.27"/>
<rect x="286.8" y="525.2" width="0.65" height="3.0" fill="#2e86c1" opacity="0.25"/>
<rect x="288.5" y="525.2" width="0.65" height="3.0" fill="#2e86c1" opacity="0.23"/>
<rect x="290.3" y="525.2" width="0.65" height="3.0" fill="#2e86c1" opacity="0.16"/>
<rect x="291.8" y="525.2" width="0.65" height="3.0" fill="#2e86c1" opacity="0.30"/>
<rect x="294.3" y="525.2" width="0.65" height="3.0" fill="#2e86c1" opacity="0.25"/>
<rect x="295.8" y="525.2" width="0.65" height="3.0" fill="#2e86c1" opacity="0.30"/>
<rect x="299.2" y="525.2" width="0.65" height="3.0" fill="#2e86c1" opacity="0.25"/>
<rect x="302.6" y="525.2" width="0.65" height="3.0" fill="#2e86c1" opacity="0.17"/>
<rect x="304.0" y="525.2" width="0.65" height="3.0" fill="#2e86c1" opacity="0.28"/>
<rect x="305.6" y="525.2" width="0.65" height="3.0" fill="#2e86c1" opacity="0.25"/>
<rect x="307.9" y="525.2" width="0.65" height="3.0" fill="#2e86c1" opacity="0.18"/>
<rect x="309.2" y="525.2" width="0.65" height="3.0" fill="#2e86c1" opacity="0.33"/>
<rect x="311.2" y="525.2" width="0.65" height="3.0" fill="#2e86c1" opacity="0.18"/>
<rect x="312.2" y="525.2" width="0.65" height="3.0" fill="#2e86c1" opacity="0.32"/>
<rect x="314.0" y="525.2" width="0.65" height="3.0" fill="#2e86c1" opacity="0.28"/>
<rect x="316.4" y="525.2" width="0.65" height="3.0" fill="#2e86c1" opacity="0.30"/>
<rect x="323.0" y="525.2" width="0.65" height="3.0" fill="#2e86c1" opacity="0.23"/>
<rect x="324.2" y="525.2" width="0.65" height="3.0" fill="#2e86c1" opacity="0.29"/>
<rect x="332.2" y="525.2" width="0.65" height="3.0" fill="#2e86c1" opacity="0.26"/>
<rect x="337.3" y="525.2" width="0.65" height="3.0" fill="#2e86c1" opacity="0.28"/>
<rect x="348.9" y="525.2" width="0.65" height="3.0" fill="#2e86c1" opacity="0.29"/>
<rect x="351.0" y="525.2" width="0.65" height="3.0" fill="#2e86c1" opacity="0.21"/>
<rect x="361.2" y="525.2" width="0.65" height="3.0" fill="#2e86c1" opacity="0.30"/>
<rect x="366.5" y="525.2" width="0.65" height="3.0" fill="#2e86c1" opacity="0.23"/>
<rect x="368.4" y="525.2" width="0.65" height="3.0" fill="#2e86c1" opacity="0.16"/>
<rect x="418.3" y="525.2" width="0.65" height="3.0" fill="#2e86c1" opacity="0.22"/>
<rect x="448.8" y="525.2" width="0.65" height="3.0" fill="#2e86c1" opacity="0.33"/>
<rect x="454.5" y="525.2" width="0.65" height="3.0" fill="#2e86c1" opacity="0.22"/>
<rect x="459.7" y="525.2" width="0.65" height="3.0" fill="#2e86c1" opacity="0.28"/>
<rect x="468.1" y="525.2" width="0.65" height="3.0" fill="#2e86c1" opacity="0.22"/>
<rect x="471.6" y="525.2" width="0.65" height="3.0" fill="#2e86c1" opacity="0.19"/>
<rect x="479.5" y="525.2" width="0.65" height="3.0" fill="#2e86c1" opacity="0.31"/>
<rect x="279.3" y="528.5" width="0.65" height="3.0" fill="#8b1a2e" opacity="0.23"/>
<rect x="284.3" y="528.5" width="0.65" height="3.0" fill="#8b1a2e" opacity="0.31"/>
<rect x="285.4" y="528.5" width="0.65" height="3.0" fill="#8b1a2e" opacity="0.30"/>
<rect x="288.0" y="528.5" width="0.65" height="3.0" fill="#8b1a2e" opacity="0.19"/>
<rect x="288.9" y="528.5" width="0.65" height="3.0" fill="#8b1a2e" opacity="0.17"/>
<rect x="290.3" y="528.5" width="0.65" height="3.0" fill="#8b1a2e" opacity="0.25"/>
<rect x="296.1" y="528.5" width="0.65" height="3.0" fill="#8b1a2e" opacity="0.32"/>
<rect x="298.8" y="528.5" width="0.65" height="3.0" fill="#8b1a2e" opacity="0.27"/>
<rect x="300.5" y="528.5" width="0.65" height="3.0" fill="#8b1a2e" opacity="0.17"/>
<rect x="302.9" y="528.5" width="0.65" height="3.0" fill="#8b1a2e" opacity="0.17"/>
<rect x="306.1" y="528.5" width="0.65" height="3.0" fill="#8b1a2e" opacity="0.32"/>
<rect x="311.4" y="528.5" width="0.65" height="3.0" fill="#8b1a2e" opacity="0.28"/>
<rect x="314.8" y="528.5" width="0.65" height="3.0" fill="#8b1a2e" opacity="0.31"/>
<rect x="318.8" y="528.5" width="0.65" height="3.0" fill="#8b1a2e" opacity="0.34"/>
<rect x="323.6" y="528.5" width="0.65" height="3.0" fill="#8b1a2e" opacity="0.28"/>
<rect x="327.4" y="528.5" width="0.65" height="3.0" fill="#8b1a2e" opacity="0.27"/>
<rect x="332.8" y="528.5" width="0.65" height="3.0" fill="#8b1a2e" opacity="0.21"/>
<rect x="347.3" y="528.5" width="0.65" height="3.0" fill="#8b1a2e" opacity="0.27"/>
<rect x="354.8" y="528.5" width="0.65" height="3.0" fill="#8b1a2e" opacity="0.33"/>
<rect x="364.6" y="528.5" width="0.65" height="3.0" fill="#8b1a2e" opacity="0.27"/>
<rect x="377.8" y="528.5" width="0.65" height="3.0" fill="#8b1a2e" opacity="0.34"/>
<rect x="448.2" y="528.5" width="0.65" height="3.0" fill="#8b1a2e" opacity="0.30"/>
<rect x="457.3" y="528.5" width="0.65" height="3.0" fill="#8b1a2e" opacity="0.28"/>
<rect x="464.2" y="528.5" width="0.65" height="3.0" fill="#8b1a2e" opacity="0.20"/>
<rect x="477.5" y="528.5" width="0.65" height="3.0" fill="#8b1a2e" opacity="0.30"/>
<rect x="279.3" y="531.9" width="0.65" height="3.0" fill="#2ec4d6" opacity="0.32"/>
<rect x="280.9" y="531.9" width="0.65" height="3.0" fill="#2ec4d6" opacity="0.23"/>
<rect x="283.2" y="531.9" width="0.65" height="3.0" fill="#2ec4d6" opacity="0.28"/>
<rect x="284.9" y="531.9" width="0.65" height="3.0" fill="#2ec4d6" opacity="0.26"/>
<rect x="286.2" y="531.9" width="0.65" height="3.0" fill="#2ec4d6" opacity="0.32"/>
<rect x="287.2" y="531.9" width="0.65" height="3.0" fill="#2ec4d6" opacity="0.33"/>
<rect x="289.5" y="531.9" width="0.65" height="3.0" fill="#2ec4d6" opacity="0.28"/>
<rect x="293.0" y="531.9" width="0.65" height="3.0" fill="#2ec4d6" opacity="0.21"/>
<rect x="299.0" y="531.9" width="0.65" height="3.0" fill="#2ec4d6" opacity="0.21"/>
<rect x="300.8" y="531.9" width="0.65" height="3.0" fill="#2ec4d6" opacity="0.18"/>
<rect x="302.7" y="531.9" width="0.65" height="3.0" fill="#2ec4d6" opacity="0.31"/>
<rect x="306.2" y="531.9" width="0.65" height="3.0" fill="#2ec4d6" opacity="0.30"/>
<rect x="309.6" y="531.9" width="0.65" height="3.0" fill="#2ec4d6" opacity="0.23"/>
<rect x="321.9" y="531.9" width="0.65" height="3.0" fill="#2ec4d6" opacity="0.17"/>
<rect x="325.1" y="531.9" width="0.65" height="3.0" fill="#2ec4d6" opacity="0.24"/>
<rect x="327.1" y="531.9" width="0.65" height="3.0" fill="#2ec4d6" opacity="0.18"/>
<rect x="333.9" y="531.9" width="0.65" height="3.0" fill="#2ec4d6" opacity="0.24"/>
<rect x="342.0" y="531.9" width="0.65" height="3.0" fill="#2ec4d6" opacity="0.23"/>
<rect x="344.0" y="531.9" width="0.65" height="3.0" fill="#2ec4d6" opacity="0.19"/>
<rect x="345.0" y="531.9" width="0.65" height="3.0" fill="#2ec4d6" opacity="0.19"/>
<rect x="346.7" y="531.9" width="0.65" height="3.0" fill="#2ec4d6" opacity="0.31"/>
<rect x="355.2" y="531.9" width="0.65" height="3.0" fill="#2ec4d6" opacity="0.16"/>
<rect x="433.5" y="531.9" width="0.65" height="3.0" fill="#2ec4d6" opacity="0.18"/>
<rect x="443.6" y="531.9" width="0.65" height="3.0" fill="#2ec4d6" opacity="0.32"/>
<rect x="445.0" y="531.9" width="0.65" height="3.0" fill="#2ec4d6" opacity="0.34"/>
<rect x="447.2" y="531.9" width="0.65" height="3.0" fill="#2ec4d6" opacity="0.29"/>
<line x1="278.8" y1="537.6" x2="484" y2="537.6" stroke="#333" stroke-width="1.6"/>
<polyline points="280.0,474.0 282.0,450.0 285.0,425.0 288.0,410.0 292.0,400.0 296.0,398.0 301.4,397.5 313.2,397.5 324.9,396.3 329.6,396.3 336.0,397.6 370.0,424.0 396.0,445.0 406.0,452.0 440.0,470.0 455.0,474.5 470.0,474.8 484.0,474.0" fill="none" stroke="#3d0a3d" stroke-width="2.3" stroke-linejoin="round"/>
<polyline points="280.5,474.0 282.2,466.9 284.4,456.0 285.5,447.3 288.7,425.5 291.0,410.0 293.2,395.2 296.8,392.2 301.4,391.1 307.3,388.7 313.2,391.1 324.9,395.2 338.0,398.7 370.0,425.0 396.0,446.7 406.0,454.5 440.0,477.0 452.7,486.2 462.5,488.7" fill="none" stroke="#8b1a2e" stroke-width="2.3" stroke-linejoin="round"/>
<polyline points="481.5,488.7 481.5,476.0 483.5,474.0" fill="none" stroke="#8b1a2e" stroke-width="2.3" stroke-linejoin="round"/>
<polyline points="280.0,474.0 283.0,455.0 287.0,440.0 292.0,425.0 296.8,415.1 305.0,412.8 312.0,410.4 313.2,399.9 316.7,399.3 321.4,399.9 330.0,402.0 336.0,405.0 370.0,428.0 396.0,446.0 406.0,453.5 415.0,458.9 437.0,472.0 444.0,471.0 451.7,469.6 459.5,470.1 468.3,473.1 472.2,476.0 484.0,474.0" fill="none" stroke="#2ec4d6" stroke-width="2.3" stroke-linejoin="round"/>
<polyline points="279.3,474.0 279.5,440.0 281.1,422.2 284.4,415.6 288.6,411.8 290.9,411.6 296.8,410.4 301.4,409.2 308.5,408.1 316.7,406.9 317.9,402.2 322.5,401.0 329.6,399.9 336.6,401.6 370.0,425.0 396.0,443.0 406.0,448.7 438.8,464.3 440.0,464.8 454.6,470.6 461.5,473.6 469.3,478.0 472.2,478.4 479.1,472.6 484.0,474.0" fill="none" stroke="#a5602a" stroke-width="2.3" stroke-linejoin="round"/>
<polyline points="279.5,472.0 281.0,440.0 282.0,410.0 283.0,390.0 283.9,387.5 286.2,387.0 292.1,385.2 293.8,372.9 296.2,372.3 301.4,373.5 308.5,375.2 315.5,378.2 320.2,377.6 320.8,374.7 323.7,374.1 326.1,370.6 329.6,370.0 331.9,371.1 335.2,375.2 346.3,383.4 369.7,401.0 380.0,410.4 396.0,420.9 406.0,429.0 443.9,455.0 457.6,462.8 465.9,468.7 468.3,466.7 470.0,465.0 477.1,469.2 484.0,474.0" fill="none" stroke="#2e86c1" stroke-width="2.3" stroke-linejoin="round"/>
<polyline points="279.5,474.0 281.0,445.0 283.0,410.0 285.0,398.7 286.2,397.5 292.4,395.2 300.0,394.0 306.0,392.0 310.0,386.0 315.8,383.4 320.0,384.6 328.2,386.4 335.2,388.1 341.1,389.9 369.7,410.5 380.0,418.0 396.0,428.0 406.0,438.0 435.5,458.6 438.8,459.4 440.0,458.9 450.7,462.8 452.7,461.8 457.6,459.4 477.1,469.2 478.1,470.6 484.0,474.0" fill="none" stroke="#7858a6" stroke-width="2.3" stroke-linejoin="round"/>
<polyline points="279.5,474.0 282.0,450.0 285.4,418.6 286.2,405.7 288.9,402.2 289.7,395.2 290.9,391.7 295.6,385.2 299.1,378.8 306.1,383.4 313.2,387.5 320.0,391.7 324.7,391.1 331.7,393.4 346.3,404.5 369.7,418.6 396.0,437.3 406.0,445.4 440.0,465.7 457.6,478.0 459.5,480.4 471.2,479.9 476.1,478.4 478.1,476.0 484.0,474.0" fill="none" stroke="#f0386b" stroke-width="2.3" stroke-linejoin="round"/>
<polyline points="279.5,474.0 281.0,440.0 284.0,415.0 286.0,405.0 288.6,402.2 290.9,401.6 301.4,400.4 302.6,392.8 308.5,394.0 316.7,395.2 324.9,398.7 338.0,406.9 370.0,428.0 396.0,444.0 406.0,449.5 440.0,471.1 456.6,480.4 458.6,478.4 460.5,474.5 469.3,472.6 477.1,470.6 484.0,474.0" fill="none" stroke="#6b4a6b" stroke-width="2.3" stroke-linejoin="round"/>
<polyline points="279.5,474.0 280.5,460.0 283.0,440.0 287.0,428.0 291.0,422.0 294.4,418.6 299.1,415.1 305.0,408.7 308.5,410.4 313.2,412.2 320.2,412.8 327.2,414.5 336.6,417.4 360.0,432.0 396.0,458.0 406.0,464.3 422.4,476.6 432.3,478.2 440.0,479.9 451.7,485.3 453.2,484.3 457.6,484.8 459.5,483.8 463.4,483.8 469.3,484.8 472.2,486.2 473.2,483.3 475.2,482.3 479.1,481.4 479.6,477.5 481.0,475.5 484.0,474.0" fill="none" stroke="#2ecc71" stroke-width="2.3" stroke-linejoin="round"/>
<polyline points="279.5,474.0 281.0,462.0 283.3,452.0 284.4,447.0 288.7,443.0 292.0,432.0 293.6,418.6 295.6,413.9 298.5,399.9 302.6,390.5 306.1,385.2 313.2,384.6 320.2,388.1 322.3,387.8 323.2,385.6 325.5,385.2 326.5,383.0 328.8,382.6 329.8,380.6 332.2,380.2 333.3,378.4 335.2,378.0 337.0,375.2 342.3,376.4 349.3,382.9 369.7,397.5 380.0,405.1 396.0,416.2 406.0,423.3 458.5,454.5" fill="none" stroke="#c8c04a" stroke-width="2.3" stroke-linejoin="round"/>
<text transform="translate(364.2,544.2) scale(0.84,1)" font-size="6.2" font-weight="bold" text-anchor="end" font-family="'Liberation Serif', serif" fill="#111" stroke="#111" stroke-width="0.3">high expression</text>
<text transform="translate(401.0,544.2) scale(0.93,1)" font-size="6.2" font-weight="bold" text-anchor="start" font-family="'Liberation Serif', serif" fill="#111" stroke="#111" stroke-width="0.3">low expression</text>
<path d="M366.6,540.8000000000001 L364.90000000000003,542.1 L366.6,543.4" fill="none" stroke="#444" stroke-width="0.45"/>
<line x1="365.1" y1="542.1" x2="400.40000000000003" y2="542.1" stroke="#444" stroke-width="0.55" stroke-dasharray="1.3,0.5"/>
<path d="M398.8,540.8000000000001 L400.5,542.1 L398.8,543.4" fill="none" stroke="#444" stroke-width="0.45"/>
<text transform="translate(18.3,414) rotate(-90) scale(1,0.855)" font-size="10.3" font-weight="bold" text-anchor="middle" font-family="'Liberation Serif', serif" fill="#111">Enrichment Score</text>
<text transform="translate(269.3,418.9) rotate(-90) scale(1,0.855)" font-size="9.9" font-weight="bold" text-anchor="middle" font-family="'Liberation Serif', serif" fill="#111">Enrichment Score</text></svg></body></html>
